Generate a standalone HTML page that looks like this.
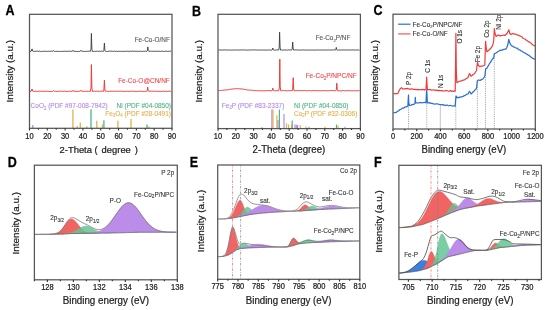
<!DOCTYPE html><html><head><meta charset="utf-8"><style>html,body{margin:0;padding:0;background:#fff;width:550px;height:310px;overflow:hidden}</style></head><body><svg width="550" height="310" viewBox="0 0 550 310" style="display:block;will-change:transform;filter:blur(0.25px)">
<rect width="550" height="310" fill="#fff"/>
<g font-family='"Liberation Sans", sans-serif'>
<text transform="translate(5.40 15.40) scale(1 1.1)" font-size="12.5" fill="#000" text-anchor="start" font-weight="bold" stroke="#000" stroke-width="0.25">A</text>
<text transform="translate(192.00 15.50) scale(1 1.1)" font-size="12.5" fill="#000" text-anchor="start" font-weight="bold" stroke="#000" stroke-width="0.25">B</text>
<text transform="translate(373.40 15.40) scale(1 1.1)" font-size="12.5" fill="#000" text-anchor="start" font-weight="bold" stroke="#000" stroke-width="0.25">C</text>
<text transform="translate(7.80 166.70) scale(1 1.1)" font-size="12.5" fill="#000" text-anchor="start" font-weight="bold" stroke="#000" stroke-width="0.25">D</text>
<text transform="translate(189.80 166.70) scale(1 1.1)" font-size="12.5" fill="#000" text-anchor="start" font-weight="bold" stroke="#000" stroke-width="0.25">E</text>
<text transform="translate(374.00 166.70) scale(1 1.1)" font-size="12.5" fill="#000" text-anchor="start" font-weight="bold" stroke="#000" stroke-width="0.25">F</text>
<path d="M30.0,51.2 31.0,51.4 31.4,51.0 32.0,48.9 32.6,51.0 33.0,51.4 33.8,51.3 34.5,51.3 35.2,51.3 36.0,51.3 36.8,51.1 37.5,51.1 38.2,51.4 39.0,51.2 39.8,51.2 40.5,51.5 41.2,51.3 42.0,51.4 42.8,51.3 43.5,51.4 44.2,51.2 45.0,51.3 45.8,51.4 46.5,51.3 47.2,51.4 48.0,51.4 48.8,51.1 49.5,51.4 50.2,51.3 51.0,51.2 51.8,51.1 52.5,51.4 52.9,51.2 53.5,50.4 54.1,51.2 54.5,51.4 55.5,51.4 56.2,51.3 57.0,51.4 57.8,51.4 58.5,51.4 59.2,51.5 60.0,51.3 60.8,51.4 61.5,51.3 62.2,51.5 63.0,51.4 63.8,51.2 64.5,51.2 65.2,51.2 66.0,51.5 66.8,51.3 67.5,51.3 68.2,51.2 69.0,51.3 69.8,51.3 70.5,51.2 71.2,51.3 72.0,51.4 72.4,51.2 73.0,50.3 73.6,51.2 74.0,51.4 75.0,51.3 75.8,51.4 76.5,51.4 77.2,51.5 78.0,51.4 78.8,51.5 79.5,51.4 80.0,51.4 80.4,51.2 81.0,50.3 81.6,51.2 82.0,51.4 82.5,51.2 83.2,51.4 84.0,51.5 84.8,51.4 85.5,51.3 86.2,51.4 87.0,51.2 87.8,51.4 88.5,51.3 89.2,51.2 90.0,51.1 90.4,51.4 91.0,49.2 91.4,33.4 91.9,49.2 92.4,51.4 93.0,51.4 93.8,51.5 94.5,51.2 95.2,51.4 96.0,51.3 96.8,51.2 97.5,51.2 98.2,51.4 99.0,51.4 99.8,51.1 100.5,51.3 101.2,51.1 102.0,51.4 102.8,51.2 103.4,51.4 103.9,50.3 104.4,43.1 104.9,50.3 105.4,51.4 105.8,51.4 106.5,51.5 107.2,51.3 108.0,51.5 108.8,51.2 109.5,51.1 110.2,51.3 111.0,51.1 111.8,51.2 112.5,51.3 113.2,51.3 114.0,51.2 114.8,51.1 115.5,51.4 116.2,51.2 117.0,51.5 117.8,51.4 118.5,51.3 119.2,51.3 120.0,51.3 120.8,51.4 121.5,51.3 122.2,51.3 123.0,51.3 123.8,51.5 124.5,51.3 125.2,51.3 126.0,51.4 126.8,51.2 127.5,51.2 128.2,51.5 129.0,51.3 129.8,51.3 130.5,51.1 131.2,51.3 132.0,51.3 132.8,51.1 133.5,51.3 134.2,51.3 135.0,51.1 135.8,51.3 136.5,51.3 137.2,51.4 138.0,51.2 138.8,51.4 139.5,51.4 140.2,51.1 141.0,51.1 141.8,51.4 142.5,51.5 143.2,51.2 144.0,51.3 144.8,51.3 145.5,51.2 146.2,51.3 146.8,51.4 147.3,50.8 147.8,46.9 148.3,50.8 148.8,51.4 149.2,51.2 150.0,51.3 150.8,51.3 151.5,51.2 152.2,51.3 153.0,51.4 153.8,51.1 154.5,51.3 155.2,51.4 156.0,51.2 156.8,51.2 157.5,51.4 158.2,51.2 159.0,51.2 159.8,51.3 160.5,51.4 161.2,51.2 162.0,51.2 162.8,51.2 163.5,51.4 164.2,51.3 165.0,51.4 165.8,51.2 166.5,51.2 167.2,51.4 168.0,51.4 168.8,51.3 169.5,51.2 170.2,51.2 171.0,51.3" stroke="#3a3a3a" stroke-width="0.9" fill="none" stroke-linejoin="round"/>
<path d="M30.0,91.2 31.0,91.4 31.4,91.0 32.0,89.0 32.6,91.0 33.0,91.4 33.8,91.4 34.5,91.4 35.2,91.2 36.0,91.2 36.8,91.4 37.5,91.4 38.2,91.4 39.0,91.2 39.8,91.2 40.5,91.2 41.2,91.4 42.0,91.2 42.8,91.2 43.5,91.3 44.2,91.3 45.0,91.3 45.8,91.5 46.5,91.2 47.2,91.1 48.0,91.5 48.8,91.4 49.5,91.5 50.2,91.3 51.0,91.5 51.8,91.5 52.5,91.4 52.9,91.2 53.5,90.5 54.1,91.2 54.5,91.4 55.5,91.2 56.2,91.4 57.0,91.4 57.8,91.4 58.5,91.3 59.2,91.2 60.0,91.2 60.8,91.2 61.5,91.1 62.2,91.3 63.0,91.2 63.8,91.4 64.5,91.1 65.2,91.4 66.0,91.4 66.8,91.5 67.5,91.4 68.2,91.4 69.0,91.3 69.8,91.1 70.5,91.4 71.2,91.2 72.0,91.4 72.4,91.2 73.0,90.3 73.6,91.2 74.0,91.4 75.0,91.2 75.8,91.4 76.5,91.3 77.2,91.3 78.0,91.5 78.8,91.3 79.5,91.2 80.0,91.4 80.4,91.2 81.0,90.3 81.6,91.2 82.0,91.4 82.5,91.2 83.2,91.4 84.0,91.3 84.8,91.4 85.5,91.2 86.2,91.2 87.0,91.3 87.8,91.4 88.5,91.2 89.2,91.4 90.0,91.5 90.4,91.4 91.0,88.1 91.4,64.6 91.9,88.1 92.4,91.4 93.0,91.4 93.8,91.4 94.5,91.1 95.2,91.3 96.0,91.4 96.8,91.1 97.5,91.2 98.2,91.2 99.0,91.3 99.8,91.3 100.5,91.3 101.2,91.4 102.0,91.1 102.8,91.1 103.4,91.4 103.9,90.0 104.4,80.2 104.9,90.0 105.4,91.4 105.8,91.2 106.5,91.2 107.2,91.1 108.0,91.5 108.8,91.4 109.5,91.2 110.2,91.3 111.0,91.2 111.8,91.2 112.5,91.2 113.2,91.4 114.0,91.3 114.8,91.2 115.5,91.2 116.2,91.2 117.0,91.2 117.8,91.3 118.5,91.4 119.2,91.3 120.0,91.1 120.8,91.2 121.5,91.3 122.2,91.3 123.0,91.4 123.8,91.3 124.5,91.4 125.2,91.3 126.0,91.3 126.8,91.3 127.5,91.3 128.2,91.4 129.0,91.3 129.8,91.4 130.5,91.3 131.2,91.2 132.0,91.3 132.8,91.4 133.5,91.1 134.2,91.3 135.0,91.3 135.8,91.4 136.5,91.5 137.2,91.3 138.0,91.4 138.8,91.4 139.5,91.2 140.2,91.3 141.0,91.2 141.8,91.4 142.5,91.4 143.2,91.4 144.0,91.4 144.8,91.4 145.5,91.4 146.2,91.3 146.7,91.4 147.2,90.8 147.7,87.2 148.2,90.8 148.7,91.4 149.2,91.2 150.0,91.3 150.8,91.1 151.5,91.2 152.2,91.4 153.0,91.1 153.8,91.2 154.5,91.2 155.2,91.4 156.0,91.2 156.8,91.1 157.5,91.4 158.2,91.2 159.0,91.4 159.8,91.4 160.5,91.4 161.2,91.5 162.0,91.3 162.8,91.4 163.5,91.1 164.2,91.4 165.0,91.3 165.8,91.4 166.5,91.2 167.2,91.4 168.0,91.5 168.8,91.1 169.5,91.2 170.2,91.3 171.0,91.4" stroke="#ee3b3b" stroke-width="1.0" fill="none" stroke-linejoin="round"/>
<line x1="32.8" y1="128.3" x2="32.8" y2="125" stroke="#b48ae8" stroke-width="1.3"/>
<line x1="72.9" y1="128.3" x2="72.9" y2="109.6" stroke="#e3b04b" stroke-width="1.3"/>
<line x1="77.3" y1="128.3" x2="77.3" y2="126" stroke="#e3b04b" stroke-width="1.3"/>
<line x1="80.3" y1="128.3" x2="80.3" y2="122.4" stroke="#e3b04b" stroke-width="1.3"/>
<line x1="86.8" y1="128.3" x2="86.8" y2="126.2" stroke="#e3b04b" stroke-width="1.3"/>
<line x1="91.0" y1="128.3" x2="91.0" y2="109.3" stroke="#4fb487" stroke-width="1.3"/>
<line x1="96.8" y1="128.3" x2="96.8" y2="120.7" stroke="#e3b04b" stroke-width="1.3"/>
<line x1="102.4" y1="128.3" x2="102.4" y2="124.5" stroke="#e3b04b" stroke-width="1.3"/>
<line x1="103.9" y1="128.3" x2="103.9" y2="120.2" stroke="#4fb487" stroke-width="1.3"/>
<line x1="117.9" y1="128.3" x2="117.9" y2="120.7" stroke="#e3b04b" stroke-width="1.3"/>
<line x1="131" y1="128.3" x2="131" y2="119" stroke="#e3b04b" stroke-width="1.3"/>
<line x1="147" y1="128.3" x2="147" y2="124.4" stroke="#4fb487" stroke-width="1.3"/>
<line x1="148.9" y1="128.3" x2="148.9" y2="126.5" stroke="#e3b04b" stroke-width="1.3"/>
<rect x="29.5" y="14.3" width="142.5" height="114.00000000000001" fill="none" stroke="#555555" stroke-width="1.25"/>
<line x1="29.50" y1="128.3" x2="29.50" y2="130.5" stroke="#333" stroke-width="1.1"/>
<line x1="38.41" y1="128.3" x2="38.41" y2="129.70000000000002" stroke="#333" stroke-width="1.1"/>
<line x1="47.31" y1="128.3" x2="47.31" y2="130.5" stroke="#333" stroke-width="1.1"/>
<line x1="56.22" y1="128.3" x2="56.22" y2="129.70000000000002" stroke="#333" stroke-width="1.1"/>
<line x1="65.12" y1="128.3" x2="65.12" y2="130.5" stroke="#333" stroke-width="1.1"/>
<line x1="74.03" y1="128.3" x2="74.03" y2="129.70000000000002" stroke="#333" stroke-width="1.1"/>
<line x1="82.94" y1="128.3" x2="82.94" y2="130.5" stroke="#333" stroke-width="1.1"/>
<line x1="91.84" y1="128.3" x2="91.84" y2="129.70000000000002" stroke="#333" stroke-width="1.1"/>
<line x1="100.75" y1="128.3" x2="100.75" y2="130.5" stroke="#333" stroke-width="1.1"/>
<line x1="109.66" y1="128.3" x2="109.66" y2="129.70000000000002" stroke="#333" stroke-width="1.1"/>
<line x1="118.56" y1="128.3" x2="118.56" y2="130.5" stroke="#333" stroke-width="1.1"/>
<line x1="127.47" y1="128.3" x2="127.47" y2="129.70000000000002" stroke="#333" stroke-width="1.1"/>
<line x1="136.38" y1="128.3" x2="136.38" y2="130.5" stroke="#333" stroke-width="1.1"/>
<line x1="145.28" y1="128.3" x2="145.28" y2="129.70000000000002" stroke="#333" stroke-width="1.1"/>
<line x1="154.19" y1="128.3" x2="154.19" y2="130.5" stroke="#333" stroke-width="1.1"/>
<line x1="163.09" y1="128.3" x2="163.09" y2="129.70000000000002" stroke="#333" stroke-width="1.1"/>
<line x1="172.00" y1="128.3" x2="172.00" y2="130.5" stroke="#333" stroke-width="1.1"/>
<text transform="translate(29.50 138.90) scale(1 1.1)" font-size="7.5" fill="#222" text-anchor="middle" stroke="#222" stroke-width="0.22">10</text>
<text transform="translate(47.31 138.90) scale(1 1.1)" font-size="7.5" fill="#222" text-anchor="middle" stroke="#222" stroke-width="0.22">20</text>
<text transform="translate(65.12 138.90) scale(1 1.1)" font-size="7.5" fill="#222" text-anchor="middle" stroke="#222" stroke-width="0.22">30</text>
<text transform="translate(82.94 138.90) scale(1 1.1)" font-size="7.5" fill="#222" text-anchor="middle" stroke="#222" stroke-width="0.22">40</text>
<text transform="translate(100.75 138.90) scale(1 1.1)" font-size="7.5" fill="#222" text-anchor="middle" stroke="#222" stroke-width="0.22">50</text>
<text transform="translate(118.56 138.90) scale(1 1.1)" font-size="7.5" fill="#222" text-anchor="middle" stroke="#222" stroke-width="0.22">60</text>
<text transform="translate(136.38 138.90) scale(1 1.1)" font-size="7.5" fill="#222" text-anchor="middle" stroke="#222" stroke-width="0.22">70</text>
<text transform="translate(154.19 138.90) scale(1 1.1)" font-size="7.5" fill="#222" text-anchor="middle" stroke="#222" stroke-width="0.22">80</text>
<text transform="translate(172.00 138.90) scale(1 1.1)" font-size="7.5" fill="#222" text-anchor="middle" stroke="#222" stroke-width="0.22">90</text>
<text x="169.80" y="42.20" font-size="6.4" fill="#555" text-anchor="end" stroke="#555" stroke-width="0.1">Fe-Co-O/NF</text>
<text transform="translate(169.80 83.00) scale(1 1.06)" font-size="6.5" fill="#f04848" text-anchor="end" stroke="#f04848" stroke-width="0.1">Fe-Co-O@CN/NF</text>
<text transform="translate(30.60 107.90) scale(1 1.12)" font-size="6.5" fill="#b48ae8" text-anchor="start" stroke="#b48ae8" stroke-width="0.1">CoO<tspan font-size="4.3" dy="1.5">2</tspan><tspan dy="-1.5"> (PDF #97-008-7942)</tspan></text>
<text transform="translate(171.00 107.90) scale(1 1.12)" font-size="6.5" fill="#4fb487" text-anchor="end" stroke="#4fb487" stroke-width="0.1">Ni (PDF #04-0850)</text>
<text transform="translate(171.00 115.60) scale(1 1.12)" font-size="6.5" fill="#e3b04b" text-anchor="end" stroke="#e3b04b" stroke-width="0.1">Fe<tspan font-size="4.3" dy="1.5">3</tspan><tspan dy="-1.5">O</tspan><tspan font-size="4.3" dy="1.5">4</tspan><tspan dy="-1.5"> (PDF #28-0491)</tspan></text>
<text transform="translate(59.60 152.50) scale(1 1.06)" font-size="9.4" fill="#222" text-anchor="start" stroke="#222" stroke-width="0.22">2-Theta</text>
<text transform="translate(94.60 152.50) scale(1 1.06)" font-size="9.4" fill="#222" text-anchor="start" stroke="#222" stroke-width="0.22">(</text>
<text transform="translate(101.60 152.50) scale(1 1.06)" font-size="9.4" fill="#222" text-anchor="start" stroke="#222" stroke-width="0.22">degree</text>
<text transform="translate(134.80 152.50) scale(1 1.06)" font-size="9.4" fill="#222" text-anchor="start" stroke="#222" stroke-width="0.22">)</text>
<text transform="translate(12.60 71.30) rotate(-90)" font-size="9.9" fill="#222" text-anchor="middle" stroke="#222" stroke-width="0.22">Intensity (a.u.)</text>
<path d="M218.5,49.9 219.2,49.9 220.0,49.9 220.8,50.0 221.5,50.1 222.2,50.0 223.0,50.0 223.8,50.0 224.5,49.9 225.2,50.0 226.0,49.8 226.8,50.0 227.5,50.2 228.2,50.0 229.0,50.1 229.8,49.9 230.5,50.1 231.2,50.1 232.0,50.1 232.8,50.0 233.5,50.0 234.2,50.1 235.0,50.1 235.8,49.9 236.5,49.9 237.2,50.1 238.0,50.1 238.8,50.0 239.5,50.0 240.2,50.1 241.0,49.9 241.8,49.9 242.5,49.9 243.2,50.0 244.0,49.9 244.8,49.9 245.5,50.1 246.2,50.2 247.0,49.9 247.8,50.1 248.5,50.0 249.2,50.1 250.0,50.0 250.8,49.9 251.5,49.9 252.2,49.8 253.0,50.0 253.8,50.0 254.5,49.9 255.2,49.9 256.0,49.9 256.8,50.1 257.5,49.9 258.2,50.2 259.0,50.0 259.8,50.0 260.5,50.0 261.2,50.1 262.0,50.1 262.8,50.0 263.5,50.0 264.2,50.1 265.0,50.1 265.8,50.0 266.5,50.1 267.2,50.2 268.0,50.0 268.8,49.9 269.5,49.9 270.2,50.1 271.0,50.1 271.8,50.1 272.3,49.8 272.8,48.0 273.3,49.8 273.8,50.1 274.8,50.2 275.5,50.1 276.2,49.9 277.0,49.9 277.8,49.9 278.6,50.1 279.2,47.9 279.6,32.2 280.1,47.9 280.6,50.1 281.5,49.9 282.2,50.1 283.0,50.1 283.8,50.1 284.5,49.9 285.2,50.1 286.0,49.9 286.8,50.0 287.5,50.1 288.2,49.9 289.0,49.9 289.8,50.1 290.5,49.9 291.2,49.9 291.7,50.1 292.2,49.0 292.7,42.0 293.2,49.0 293.7,50.1 294.2,50.0 295.0,50.1 295.8,49.8 296.5,49.9 297.2,50.0 298.0,50.0 298.8,49.9 299.5,50.0 300.2,50.2 301.0,50.0 301.8,50.0 302.5,49.9 303.2,49.9 304.0,50.1 304.8,49.9 305.5,50.1 306.2,50.1 307.0,49.9 307.8,50.2 308.5,50.0 309.2,50.1 310.0,50.1 310.8,49.9 311.5,50.1 312.2,50.1 313.0,50.1 313.8,49.9 314.5,50.1 315.2,50.2 316.0,50.1 316.8,50.0 317.5,49.9 318.2,50.0 319.0,49.9 319.8,50.1 320.5,50.1 321.2,50.0 322.0,49.9 322.8,50.1 323.5,50.0 324.2,49.9 325.0,50.1 325.8,50.1 326.5,49.9 327.2,50.2 328.0,49.9 328.8,49.9 329.5,50.1 330.2,50.0 331.0,50.0 331.8,50.1 332.5,50.0 333.2,49.9 334.0,49.9 334.8,49.8 335.3,50.1 335.8,49.7 336.3,47.4 336.8,49.7 337.3,50.1 337.8,50.1 338.5,50.1 339.2,50.0 340.0,50.1 340.8,49.9 341.5,49.9 342.2,50.0 343.0,50.1 343.8,49.8 344.5,50.0 345.2,49.9 346.0,50.1 346.8,49.9 347.5,49.9 348.2,50.0 349.0,50.0 349.8,50.1 350.5,49.9 351.2,50.1 352.0,49.9 352.8,49.9 353.5,49.9 354.2,49.9 355.0,50.1 355.8,50.1 356.5,49.9 357.2,49.9 358.0,50.0 358.8,50.1 359.5,50.1" stroke="#3a3a3a" stroke-width="0.9" fill="none" stroke-linejoin="round"/>
<path d="M218.5,90.7 219.2,90.6 220.0,90.4 220.8,90.4 221.5,90.3 222.2,90.3 223.0,90.3 223.8,90.1 224.5,90.0 225.2,90.1 226.0,89.8 226.8,89.9 227.5,89.9 228.2,89.8 229.0,89.4 229.8,89.4 230.5,89.3 231.2,89.2 232.0,89.2 232.8,89.0 233.5,88.8 234.2,88.9 235.0,88.8 235.8,88.8 236.5,88.8 237.2,88.5 238.0,88.8 238.8,88.8 239.5,88.8 240.2,88.9 241.0,88.9 241.8,88.9 242.5,89.1 243.2,89.1 244.0,89.3 244.8,89.5 245.5,89.5 246.2,89.7 247.0,89.9 247.8,90.0 248.5,89.9 249.2,90.2 250.0,90.2 250.8,90.1 251.5,90.3 252.2,90.3 253.0,90.3 253.8,90.5 254.5,90.7 255.2,90.5 256.0,90.7 256.8,90.7 257.5,90.5 258.2,90.8 259.0,90.7 259.8,90.8 260.5,90.8 261.2,90.8 262.0,90.6 262.8,90.8 263.5,90.8 264.2,90.8 265.0,90.7 265.8,90.8 266.5,90.7 267.2,90.6 268.0,90.5 268.8,90.5 269.5,90.6 270.2,90.6 271.0,90.7 271.8,90.8 272.3,90.4 272.8,88.1 273.3,90.4 273.8,90.8 274.8,90.8 275.5,90.7 276.2,90.7 277.0,90.8 277.8,90.6 278.5,90.7 278.8,90.8 279.4,86.9 279.8,59.2 280.2,86.9 280.8,90.8 281.5,90.8 282.0,90.8 282.4,90.6 283.0,89.9 283.6,90.6 284.0,90.8 284.5,90.7 285.2,90.6 286.0,90.8 286.8,90.8 287.5,90.7 288.2,90.7 289.0,90.7 289.8,90.7 290.5,90.6 291.2,90.5 292.2,90.8 292.7,89.1 293.2,77.7 293.7,89.1 294.2,90.8 295.0,90.6 295.8,90.8 296.5,90.6 297.2,90.7 298.0,90.6 298.8,90.6 299.5,90.6 300.2,90.7 301.0,90.6 301.8,90.5 302.5,90.6 303.2,90.6 304.0,90.7 304.8,90.5 305.5,90.5 306.2,90.7 307.0,90.7 307.8,90.8 308.5,90.5 309.2,90.7 310.0,90.7 310.8,90.5 311.5,90.9 312.2,90.6 313.0,90.6 313.8,90.7 314.5,90.6 315.2,90.7 316.0,90.6 316.8,90.6 317.5,90.5 318.2,90.8 319.0,90.6 319.8,90.8 320.5,90.7 321.2,90.9 322.0,90.6 322.8,90.6 323.5,90.6 324.2,90.8 325.0,90.7 325.8,90.6 326.5,90.6 327.2,90.8 328.0,90.9 328.8,90.7 329.5,90.5 330.2,90.5 331.0,90.6 331.8,90.6 332.5,90.5 333.2,90.5 334.0,90.8 334.8,90.8 335.5,90.6 335.8,90.8 336.3,89.8 336.8,83.2 337.3,89.8 337.8,90.8 338.5,90.9 339.2,90.7 340.0,90.8 340.8,90.9 341.5,90.9 342.2,90.5 343.0,90.6 343.8,90.7 344.5,90.9 345.2,90.6 346.0,90.6 346.8,90.8 347.5,90.6 348.2,90.7 349.0,90.6 349.8,90.8 350.5,90.9 351.2,90.6 352.0,90.8 352.8,90.8 353.5,90.8 354.2,90.7 355.0,90.9 355.8,90.7 356.5,90.7 357.2,90.6 358.0,90.8 358.8,90.7 359.5,90.6" stroke="#ee3b3b" stroke-width="1.0" fill="none" stroke-linejoin="round"/>
<line x1="271.9" y1="128.6" x2="271.9" y2="109.6" stroke="#b48ae8" stroke-width="1.2"/>
<line x1="273.0" y1="128.6" x2="273.0" y2="109.6" stroke="#e3b04b" stroke-width="1.2"/>
<line x1="276.9" y1="128.6" x2="276.9" y2="115.3" stroke="#e3b04b" stroke-width="1.2"/>
<line x1="278.0" y1="128.6" x2="278.0" y2="120" stroke="#b48ae8" stroke-width="1.2"/>
<line x1="279.4" y1="128.6" x2="279.4" y2="109.6" stroke="#4fb487" stroke-width="1.2"/>
<line x1="284.0" y1="128.6" x2="284.0" y2="114" stroke="#b48ae8" stroke-width="1.2"/>
<line x1="286.5" y1="128.6" x2="286.5" y2="123.4" stroke="#e3b04b" stroke-width="1.2"/>
<line x1="288.6" y1="128.6" x2="288.6" y2="124.5" stroke="#e3b04b" stroke-width="1.2"/>
<line x1="291.6" y1="128.6" x2="291.6" y2="124.5" stroke="#e3b04b" stroke-width="1.2"/>
<line x1="292.2" y1="128.6" x2="292.2" y2="120.5" stroke="#4fb487" stroke-width="1.2"/>
<line x1="295" y1="128.6" x2="295" y2="124.5" stroke="#b48ae8" stroke-width="1.2"/>
<line x1="296.3" y1="128.6" x2="296.3" y2="124.8" stroke="#b48ae8" stroke-width="1.2"/>
<line x1="297.6" y1="128.6" x2="297.6" y2="125" stroke="#b48ae8" stroke-width="1.2"/>
<line x1="300.3" y1="128.6" x2="300.3" y2="125.3" stroke="#e3b04b" stroke-width="1.2"/>
<line x1="306" y1="128.6" x2="306" y2="126.5" stroke="#e3b04b" stroke-width="1.2"/>
<line x1="309" y1="128.6" x2="309" y2="126.8" stroke="#b48ae8" stroke-width="1.2"/>
<line x1="336.5" y1="128.6" x2="336.5" y2="124.5" stroke="#4fb487" stroke-width="1.2"/>
<line x1="338" y1="128.6" x2="338" y2="125.5" stroke="#e3b04b" stroke-width="1.2"/>
<line x1="345" y1="128.6" x2="345" y2="126.8" stroke="#b48ae8" stroke-width="1.2"/>
<line x1="325" y1="128.6" x2="325" y2="126.8" stroke="#e3b04b" stroke-width="1.2"/>
<line x1="262" y1="128.6" x2="262" y2="126.9" stroke="#e3b04b" stroke-width="1.2"/>
<rect x="218.0" y="14.3" width="142.39999999999998" height="114.3" fill="none" stroke="#555555" stroke-width="1.25"/>
<line x1="218.00" y1="128.6" x2="218.00" y2="130.79999999999998" stroke="#333" stroke-width="1.1"/>
<line x1="226.90" y1="128.6" x2="226.90" y2="130.0" stroke="#333" stroke-width="1.1"/>
<line x1="235.80" y1="128.6" x2="235.80" y2="130.79999999999998" stroke="#333" stroke-width="1.1"/>
<line x1="244.70" y1="128.6" x2="244.70" y2="130.0" stroke="#333" stroke-width="1.1"/>
<line x1="253.60" y1="128.6" x2="253.60" y2="130.79999999999998" stroke="#333" stroke-width="1.1"/>
<line x1="262.50" y1="128.6" x2="262.50" y2="130.0" stroke="#333" stroke-width="1.1"/>
<line x1="271.40" y1="128.6" x2="271.40" y2="130.79999999999998" stroke="#333" stroke-width="1.1"/>
<line x1="280.30" y1="128.6" x2="280.30" y2="130.0" stroke="#333" stroke-width="1.1"/>
<line x1="289.20" y1="128.6" x2="289.20" y2="130.79999999999998" stroke="#333" stroke-width="1.1"/>
<line x1="298.10" y1="128.6" x2="298.10" y2="130.0" stroke="#333" stroke-width="1.1"/>
<line x1="307.00" y1="128.6" x2="307.00" y2="130.79999999999998" stroke="#333" stroke-width="1.1"/>
<line x1="315.90" y1="128.6" x2="315.90" y2="130.0" stroke="#333" stroke-width="1.1"/>
<line x1="324.80" y1="128.6" x2="324.80" y2="130.79999999999998" stroke="#333" stroke-width="1.1"/>
<line x1="333.70" y1="128.6" x2="333.70" y2="130.0" stroke="#333" stroke-width="1.1"/>
<line x1="342.60" y1="128.6" x2="342.60" y2="130.79999999999998" stroke="#333" stroke-width="1.1"/>
<line x1="351.50" y1="128.6" x2="351.50" y2="130.0" stroke="#333" stroke-width="1.1"/>
<line x1="360.40" y1="128.6" x2="360.40" y2="130.79999999999998" stroke="#333" stroke-width="1.1"/>
<text transform="translate(218.00 139.00) scale(1 1.1)" font-size="7.5" fill="#222" text-anchor="middle" stroke="#222" stroke-width="0.22">10</text>
<text transform="translate(235.80 139.00) scale(1 1.1)" font-size="7.5" fill="#222" text-anchor="middle" stroke="#222" stroke-width="0.22">20</text>
<text transform="translate(253.60 139.00) scale(1 1.1)" font-size="7.5" fill="#222" text-anchor="middle" stroke="#222" stroke-width="0.22">30</text>
<text transform="translate(271.40 139.00) scale(1 1.1)" font-size="7.5" fill="#222" text-anchor="middle" stroke="#222" stroke-width="0.22">40</text>
<text transform="translate(289.20 139.00) scale(1 1.1)" font-size="7.5" fill="#222" text-anchor="middle" stroke="#222" stroke-width="0.22">50</text>
<text transform="translate(307.00 139.00) scale(1 1.1)" font-size="7.5" fill="#222" text-anchor="middle" stroke="#222" stroke-width="0.22">60</text>
<text transform="translate(324.80 139.00) scale(1 1.1)" font-size="7.5" fill="#222" text-anchor="middle" stroke="#222" stroke-width="0.22">70</text>
<text transform="translate(342.60 139.00) scale(1 1.1)" font-size="7.5" fill="#222" text-anchor="middle" stroke="#222" stroke-width="0.22">80</text>
<text transform="translate(360.40 139.00) scale(1 1.1)" font-size="7.5" fill="#222" text-anchor="middle" stroke="#222" stroke-width="0.22">90</text>
<text x="350.40" y="40.40" font-size="6.4" fill="#555" text-anchor="end" stroke="#555" stroke-width="0.1">Fe-Co<tspan font-size="4.3" dy="1.5">2</tspan><tspan dy="-1.5">P/NF</tspan></text>
<text transform="translate(356.70 78.40) scale(1 1.06)" font-size="6.55" fill="#f04848" text-anchor="end" stroke="#f04848" stroke-width="0.1">Fe-Co<tspan font-size="4.3" dy="1.5">2</tspan><tspan dy="-1.5">P/NPC/NF</tspan></text>
<text transform="translate(221.80 107.50) scale(1 1.1)" font-size="6.5" fill="#b48ae8" text-anchor="start" stroke="#b48ae8" stroke-width="0.1">Fe<tspan font-size="4.3" dy="1.5">2</tspan><tspan dy="-1.5">P (PDF #83-2337)</tspan></text>
<text transform="translate(294.00 107.50) scale(1 1.1)" font-size="6.5" fill="#4fb487" text-anchor="start" stroke="#4fb487" stroke-width="0.1">Ni (PDF #04-0850)</text>
<text transform="translate(294.00 115.60) scale(1 1.1)" font-size="6.5" fill="#e3b04b" text-anchor="start" stroke="#e3b04b" stroke-width="0.1">Co<tspan font-size="4.3" dy="1.5">2</tspan><tspan dy="-1.5">P (PDF #32-0306)</tspan></text>
<text transform="translate(288.90 152.50) scale(1 1.06)" font-size="9.7" fill="#222" text-anchor="middle" stroke="#222" stroke-width="0.22">2-Theta (degree)</text>
<text transform="translate(202.10 71.30) rotate(-90)" font-size="9.9" fill="#222" text-anchor="middle" stroke="#222" stroke-width="0.22">Intensity (a.u.)</text>
<line x1="408.5" y1="96" x2="408.5" y2="129.0" stroke="#555" stroke-width="0.6" stroke-dasharray="0.8 1"/>
<line x1="426.8" y1="90" x2="426.8" y2="129.0" stroke="#555" stroke-width="0.6" stroke-dasharray="0.8 1"/>
<line x1="455.8" y1="96" x2="455.8" y2="129.0" stroke="#555" stroke-width="0.6" stroke-dasharray="0.8 1"/>
<line x1="477.4" y1="80" x2="477.4" y2="129.0" stroke="#555" stroke-width="0.6" stroke-dasharray="0.8 1"/>
<line x1="485.5" y1="68" x2="485.5" y2="129.0" stroke="#555" stroke-width="0.6" stroke-dasharray="0.8 1"/>
<line x1="494.3" y1="53" x2="494.3" y2="129.0" stroke="#555" stroke-width="0.6" stroke-dasharray="0.8 1"/>
<line x1="440.3" y1="104" x2="440.3" y2="129.0" stroke="#888" stroke-width="0.5"/>
<path d="M393.5,93.9 394.4,93.5 395.3,93.8 396.2,93.6 397.1,93.6 398.0,93.3 399.0,91.1 400.0,89.0 401.5,87.6 403.0,89.2 404.0,89.0 405.0,88.6 406.0,88.6 406.8,88.8 407.6,88.4 408.4,88.8 409.2,89.1 410.0,89.0 410.8,89.2 411.7,88.8 412.5,89.0 413.3,89.4 414.2,89.3 415.0,89.3 415.8,89.6 416.7,89.7 417.5,89.4 418.3,89.8 419.2,89.7 420.0,89.6 420.9,89.5 421.7,89.6 422.6,89.4 423.4,89.6 424.3,90.1 425.1,89.5 426.0,89.8 426.4,82.0 426.7,77.0 427.0,84.0 427.4,89.6 428.3,89.7 429.2,89.5 430.2,89.6 431.1,90.1 432.0,90.1 432.8,90.0 433.6,89.9 434.4,90.0 435.2,90.4 436.0,90.4 436.8,90.1 437.6,90.3 438.4,90.8 439.2,90.4 440.0,90.6 440.8,90.7 441.6,90.6 442.4,90.9 443.2,90.8 444.0,91.0 444.8,90.9 445.6,90.7 446.4,90.7 447.2,90.7 448.0,91.0 448.9,91.3 449.8,90.8 450.7,90.7 451.6,91.4 452.5,90.9 453.4,91.4 454.3,90.9 455.2,91.2 455.6,60.0 455.9,33.4 456.3,70.0 456.8,82.6 457.9,82.1 458.9,81.5 460.0,81.2 460.8,81.1 461.7,80.7 462.5,80.4 463.3,80.2 464.2,80.0 465.0,79.5 466.0,78.7 467.0,78.2 468.0,77.5 469.5,73.5 471.0,76.3 472.0,75.5 473.0,74.5 474.0,74.0 474.8,73.1 475.7,71.7 476.5,70.5 477.2,64.0 477.6,62.5 478.3,65.5 479.5,66.4 480.3,66.6 481.2,66.1 482.0,66.2 482.9,65.9 483.9,65.5 484.8,65.2 485.3,50.0 485.6,41.3 486.2,48.0 487.0,51.9 488.5,50.5 490.0,49.0 491.5,47.5 493.0,44.5 493.8,40.0 494.3,28.7 494.9,33.0 496.0,36.4 497.0,35.9 498.0,35.0 499.0,35.2 500.0,36.0 501.0,35.6 502.0,35.5 503.0,35.2 504.0,35.1 505.0,35.5 506.0,34.5 507.0,33.5 507.9,31.8 508.8,29.7 509.8,33.5 511.0,34.5 512.0,33.9 513.0,33.5 513.8,33.9 514.7,34.1 515.5,34.0 516.3,34.4 517.2,35.1 518.0,35.0 518.9,35.4 519.8,36.0 520.6,36.2 521.5,36.8 522.4,37.3 523.2,38.3 524.1,38.7 525.0,39.0 525.8,39.8 526.7,40.5 527.5,40.8 528.3,41.6 529.2,41.9 530.0,42.5 531.0,43.1 531.9,44.2 532.9,44.9 533.8,45.6 534.8,46.0" stroke="#ee3b3b" stroke-width="1.2" fill="none" stroke-linejoin="round"/>
<path d="M393.5,112.5 394.3,112.5 395.2,112.7 396.0,112.5 397.0,111.7 398.0,111.0 399.0,110.6 400.0,109.5 401.0,109.3 402.0,108.4 403.0,108.0 403.8,108.0 404.6,107.2 405.4,106.8 406.3,107.0 407.1,106.4 407.9,106.2 408.2,100.0 408.5,95.0 408.8,103.0 409.5,105.5 410.4,105.3 411.2,105.1 412.1,104.5 413.0,104.6 414.0,104.2 415.0,103.5 415.3,97.3 415.6,103.0 416.8,102.8 418.0,103.0 419.0,102.8 420.0,102.6 421.0,102.5 421.8,102.7 422.7,102.8 423.5,102.5 424.3,102.4 425.2,102.6 426.0,102.8 426.4,94.0 426.7,90.5 427.0,96.0 427.4,102.8 428.3,102.8 429.2,102.7 430.2,102.9 431.1,103.4 432.0,103.3 432.8,103.6 433.6,103.9 434.4,104.0 435.2,104.0 436.0,103.8 436.8,103.8 437.6,104.0 438.4,104.2 439.2,104.4 440.0,104.5 440.8,104.6 441.6,104.6 442.4,105.0 443.2,104.7 444.0,105.0 444.8,105.4 445.6,105.4 446.4,105.2 447.2,105.2 448.0,105.5 448.9,105.8 449.8,105.4 450.7,105.5 451.6,105.9 452.5,106.0 453.4,105.9 454.3,105.9 455.2,106.3 455.6,100.0 456.1,96.0 457.0,97.7 458.0,97.3 459.0,97.6 460.0,97.2 460.8,96.9 461.7,97.0 462.5,96.5 463.3,96.4 464.2,95.5 465.0,95.5 466.0,94.8 467.0,94.2 468.0,94.0 469.5,91.3 471.0,94.0 472.0,93.0 473.0,92.0 474.0,91.2 474.8,90.0 475.7,89.4 476.5,88.5 477.3,81.0 478.0,80.0 479.0,80.0 480.0,80.5 481.0,79.9 482.0,79.3 483.0,79.0 484.0,77.5 485.0,75.5 485.6,69.3 487.0,68.0 488.0,66.2 489.0,64.5 490.0,62.8 491.0,61.5 492.0,59.7 493.0,58.5 493.8,57.5 494.3,53.8 495.1,53.4 496.0,53.0 497.0,52.3 498.0,51.5 499.0,51.0 500.0,50.2 501.0,50.3 502.0,50.1 503.0,49.7 504.0,49.3 505.0,49.0 506.0,49.0 506.9,47.2 507.8,45.0 508.8,39.3 509.8,43.0 511.0,45.1 511.8,45.8 512.6,46.1 513.4,46.8 514.2,47.1 515.0,47.5 515.8,47.8 516.7,48.1 517.5,48.4 518.3,49.3 519.2,49.9 520.0,50.0 520.8,50.8 521.7,51.0 522.5,51.6 523.3,52.3 524.2,52.7 525.0,53.0 525.8,53.6 526.7,54.0 527.5,54.7 528.3,55.0 529.2,55.5 530.0,56.3 531.0,57.1 531.9,57.9 532.9,58.3 533.8,58.8 534.8,59.5" stroke="#2a6fd6" stroke-width="1.25" fill="none" stroke-linejoin="round"/>
<rect x="393.0" y="14.2" width="142.29999999999995" height="114.8" fill="none" stroke="#555555" stroke-width="1.25"/>
<line x1="393.00" y1="129.0" x2="393.00" y2="131.2" stroke="#333" stroke-width="1.1"/>
<line x1="404.86" y1="129.0" x2="404.86" y2="130.4" stroke="#333" stroke-width="1.1"/>
<line x1="416.72" y1="129.0" x2="416.72" y2="131.2" stroke="#333" stroke-width="1.1"/>
<line x1="428.57" y1="129.0" x2="428.57" y2="130.4" stroke="#333" stroke-width="1.1"/>
<line x1="440.43" y1="129.0" x2="440.43" y2="131.2" stroke="#333" stroke-width="1.1"/>
<line x1="452.29" y1="129.0" x2="452.29" y2="130.4" stroke="#333" stroke-width="1.1"/>
<line x1="464.15" y1="129.0" x2="464.15" y2="131.2" stroke="#333" stroke-width="1.1"/>
<line x1="476.01" y1="129.0" x2="476.01" y2="130.4" stroke="#333" stroke-width="1.1"/>
<line x1="487.87" y1="129.0" x2="487.87" y2="131.2" stroke="#333" stroke-width="1.1"/>
<line x1="499.72" y1="129.0" x2="499.72" y2="130.4" stroke="#333" stroke-width="1.1"/>
<line x1="511.58" y1="129.0" x2="511.58" y2="131.2" stroke="#333" stroke-width="1.1"/>
<line x1="523.44" y1="129.0" x2="523.44" y2="130.4" stroke="#333" stroke-width="1.1"/>
<line x1="535.30" y1="129.0" x2="535.30" y2="131.2" stroke="#333" stroke-width="1.1"/>
<text transform="translate(393.00 139.00) scale(1 1.1)" font-size="7.5" fill="#222" text-anchor="middle" stroke="#222" stroke-width="0.22">0</text>
<text transform="translate(416.72 139.00) scale(1 1.1)" font-size="7.5" fill="#222" text-anchor="middle" stroke="#222" stroke-width="0.22">200</text>
<text transform="translate(440.43 139.00) scale(1 1.1)" font-size="7.5" fill="#222" text-anchor="middle" stroke="#222" stroke-width="0.22">400</text>
<text transform="translate(464.15 139.00) scale(1 1.1)" font-size="7.5" fill="#222" text-anchor="middle" stroke="#222" stroke-width="0.22">600</text>
<text transform="translate(487.87 139.00) scale(1 1.1)" font-size="7.5" fill="#222" text-anchor="middle" stroke="#222" stroke-width="0.22">800</text>
<text transform="translate(511.58 139.00) scale(1 1.1)" font-size="7.5" fill="#222" text-anchor="middle" stroke="#222" stroke-width="0.22">1000</text>
<text transform="translate(535.30 139.00) scale(1 1.1)" font-size="7.5" fill="#222" text-anchor="middle" stroke="#222" stroke-width="0.22">1200</text>
<line x1="398.1" y1="24.2" x2="410.5" y2="24.2" stroke="#2a6fd6" stroke-width="1.2"/>
<line x1="398.1" y1="33.9" x2="410.5" y2="33.9" stroke="#f07070" stroke-width="1.4"/>
<text x="412.50" y="26.50" font-size="6.4" fill="#333" text-anchor="start" stroke="#333" stroke-width="0.1">Fe-Co<tspan font-size="4.3" dy="1.5">2</tspan><tspan dy="-1.5">P/NPC/NF</tspan></text>
<text x="412.50" y="35.70" font-size="6.4" fill="#333" text-anchor="start" stroke="#333" stroke-width="0.1">Fe-Co-O/NF</text>
<text transform="translate(411.40 78.40) rotate(-90)" font-size="6.4" fill="#333" text-anchor="middle" stroke="#333" stroke-width="0.1">P 2p</text>
<text transform="translate(429.60 66.30) rotate(-90)" font-size="6.4" fill="#333" text-anchor="middle" stroke="#333" stroke-width="0.1">C 1s</text>
<text transform="translate(442.60 81.40) rotate(-90)" font-size="6.4" fill="#333" text-anchor="middle" stroke="#333" stroke-width="0.1">N 1s</text>
<text transform="translate(461.90 36.70) rotate(-90)" font-size="6.4" fill="#333" text-anchor="middle" stroke="#333" stroke-width="0.1">O 1s</text>
<text transform="translate(479.60 54.20) rotate(-90)" font-size="6.4" fill="#333" text-anchor="middle" stroke="#333" stroke-width="0.1">Fe 2p</text>
<text transform="translate(489.40 29.00) rotate(-90)" font-size="6.4" fill="#333" text-anchor="middle" stroke="#333" stroke-width="0.1">Co 2p</text>
<text transform="translate(501.00 22.20) rotate(-90)" font-size="6.4" fill="#333" text-anchor="middle" stroke="#333" stroke-width="0.1">Ni 2p</text>
<text transform="translate(463.90 153.00) scale(1 1.06)" font-size="9.6" fill="#222" text-anchor="middle" stroke="#222" stroke-width="0.22">Binding energy (eV)</text>
<text transform="translate(377.60 71.30) rotate(-90)" font-size="9.9" fill="#222" text-anchor="middle" stroke="#222" stroke-width="0.22">Intensity (a.u.)</text>
<path d="M49.4,234.2 49.9,234.2 50.4,234.2 50.9,234.2 51.4,234.2 51.9,234.1 52.4,234.1 52.9,234.1 53.4,234.0 53.9,233.9 54.4,233.8 54.9,233.7 55.4,233.6 55.9,233.5 56.4,233.3 56.9,233.2 57.4,232.9 57.9,232.7 58.4,232.4 58.9,232.1 59.4,231.8 59.9,231.4 60.4,230.9 60.9,230.4 61.4,229.9 61.9,229.3 62.4,228.7 62.9,228.0 63.4,227.3 63.9,226.6 64.4,225.9 64.9,225.2 65.4,224.5 65.9,223.7 66.4,223.0 66.9,222.3 67.4,221.7 67.9,221.1 68.4,220.6 68.9,220.1 69.4,219.7 69.9,219.4 70.4,219.1 70.9,219.0 71.4,219.0 71.9,219.0 72.4,219.1 72.9,219.3 73.4,219.6 73.9,219.9 74.4,220.3 74.9,220.7 75.4,221.2 75.9,221.7 76.4,222.3 76.9,222.9 77.4,223.5 77.9,224.1 78.4,224.7 78.9,225.4 79.4,226.0 79.9,226.6 80.4,227.2 80.9,227.7 81.4,228.3 81.9,228.8 82.4,229.3 82.9,229.7 83.4,230.1 83.9,230.5 84.4,230.8 84.9,231.2 85.4,231.4 85.9,231.7 86.4,231.9 86.9,232.1 87.4,232.3 87.9,232.5 88.4,232.6 88.9,232.7 89.4,232.8 89.9,232.9 90.4,232.9 90.9,233.0 91.4,233.0 91.9,233.1 92.4,233.1 92.9,233.1 93.4,233.1 93.9,233.2 94.4,233.2 94.9,233.2 95.4,233.2 95.9,233.2 95.9,233.2 95.4,233.2 94.9,233.2 94.4,233.2 93.9,233.2 93.4,233.2 92.9,233.3 92.4,233.3 91.9,233.3 91.4,233.3 90.9,233.3 90.4,233.3 89.9,233.3 89.4,233.3 88.9,233.3 88.4,233.3 87.9,233.3 87.4,233.3 86.9,233.3 86.4,233.4 85.9,233.4 85.4,233.4 84.9,233.4 84.4,233.4 83.9,233.4 83.4,233.4 82.9,233.4 82.4,233.4 81.9,233.4 81.4,233.4 80.9,233.4 80.4,233.4 79.9,233.5 79.4,233.5 78.9,233.5 78.4,233.5 77.9,233.5 77.4,233.5 76.9,233.5 76.4,233.5 75.9,233.5 75.4,233.5 74.9,233.5 74.4,233.5 73.9,233.5 73.4,233.5 72.9,233.6 72.4,233.6 71.9,233.6 71.4,233.6 70.9,233.6 70.4,233.6 69.9,233.6 69.4,233.6 68.9,233.7 68.4,233.7 67.9,233.7 67.4,233.8 66.9,233.8 66.4,233.8 65.9,233.8 65.4,233.9 64.9,233.9 64.4,233.9 63.9,234.0 63.4,234.0 62.9,234.0 62.4,234.1 61.9,234.1 61.4,234.1 60.9,234.1 60.4,234.2 59.9,234.2 59.4,234.2 58.9,234.2 58.4,234.2 57.9,234.2 57.4,234.2 56.9,234.2 56.4,234.2 55.9,234.2 55.4,234.2 54.9,234.2 54.4,234.2 53.9,234.2 53.4,234.3 52.9,234.3 52.4,234.3 51.9,234.3 51.4,234.3 50.9,234.3 50.4,234.3 49.9,234.3 49.4,234.3 Z" fill="#f06464" fill-opacity="1" stroke="#f06464" stroke-width="0.3"/>
<path d="M61.4,234.1 61.9,234.0 62.4,234.0 62.9,234.0 63.4,233.9 63.9,233.9 64.4,233.8 64.9,233.8 65.4,233.7 65.9,233.6 66.4,233.6 66.9,233.5 67.4,233.4 67.9,233.3 68.4,233.2 68.9,233.1 69.4,233.0 69.9,232.8 70.4,232.7 70.9,232.6 71.4,232.4 71.9,232.3 72.4,232.1 72.9,231.9 73.4,231.7 73.9,231.5 74.4,231.2 74.9,231.0 75.4,230.7 75.9,230.5 76.4,230.2 76.9,229.9 77.4,229.6 77.9,229.3 78.4,229.0 78.9,228.7 79.4,228.4 79.9,228.1 80.4,227.8 80.9,227.5 81.4,227.3 81.9,227.0 82.4,226.8 82.9,226.6 83.4,226.5 83.9,226.3 84.4,226.2 84.9,226.1 85.4,226.1 85.9,226.1 86.4,226.1 86.9,226.1 87.4,226.2 87.9,226.3 88.4,226.4 88.9,226.6 89.4,226.8 89.9,227.0 90.4,227.2 90.9,227.5 91.4,227.8 91.9,228.0 92.4,228.3 92.9,228.6 93.4,228.9 93.9,229.2 94.4,229.5 94.9,229.7 95.4,230.0 95.9,230.3 96.4,230.5 96.9,230.8 97.4,231.0 97.9,231.2 98.4,231.4 98.9,231.6 99.4,231.7 99.9,231.9 100.4,232.0 100.9,232.2 101.4,232.3 101.9,232.4 102.4,232.5 102.9,232.6 103.4,232.6 103.9,232.7 104.4,232.7 104.9,232.8 105.4,232.8 105.9,232.9 106.4,232.9 106.9,232.9 107.4,232.9 107.9,232.9 108.4,232.9 108.9,233.0 109.4,233.0 109.9,233.0 110.4,233.0 110.4,233.0 109.9,233.0 109.4,233.0 108.9,233.0 108.4,233.0 107.9,233.0 107.4,233.0 106.9,233.0 106.4,233.1 105.9,233.1 105.4,233.1 104.9,233.1 104.4,233.1 103.9,233.1 103.4,233.1 102.9,233.1 102.4,233.1 101.9,233.1 101.4,233.1 100.9,233.1 100.4,233.1 99.9,233.2 99.4,233.2 98.9,233.2 98.4,233.2 97.9,233.2 97.4,233.2 96.9,233.2 96.4,233.2 95.9,233.2 95.4,233.2 94.9,233.2 94.4,233.2 93.9,233.2 93.4,233.2 92.9,233.3 92.4,233.3 91.9,233.3 91.4,233.3 90.9,233.3 90.4,233.3 89.9,233.3 89.4,233.3 88.9,233.3 88.4,233.3 87.9,233.3 87.4,233.3 86.9,233.3 86.4,233.4 85.9,233.4 85.4,233.4 84.9,233.4 84.4,233.4 83.9,233.4 83.4,233.4 82.9,233.4 82.4,233.4 81.9,233.4 81.4,233.4 80.9,233.4 80.4,233.4 79.9,233.5 79.4,233.5 78.9,233.5 78.4,233.5 77.9,233.5 77.4,233.5 76.9,233.5 76.4,233.5 75.9,233.5 75.4,233.5 74.9,233.5 74.4,233.5 73.9,233.5 73.4,233.5 72.9,233.6 72.4,233.6 71.9,233.6 71.4,233.6 70.9,233.6 70.4,233.6 69.9,233.6 69.4,233.6 68.9,233.7 68.4,233.7 67.9,233.7 67.4,233.8 66.9,233.8 66.4,233.8 65.9,233.8 65.4,233.9 64.9,233.9 64.4,233.9 63.9,234.0 63.4,234.0 62.9,234.0 62.4,234.1 61.9,234.1 61.4,234.1 Z" fill="#63c593" fill-opacity="0.85" stroke="#63c593" stroke-width="0.3"/>
<path d="M81.9,233.4 82.4,233.4 82.9,233.4 83.4,233.3 83.9,233.3 84.4,233.3 84.9,233.3 85.4,233.3 85.9,233.3 86.4,233.2 86.9,233.2 87.4,233.2 87.9,233.2 88.4,233.1 88.9,233.1 89.4,233.1 89.9,233.0 90.4,233.0 90.9,232.9 91.4,232.9 91.9,232.8 92.4,232.8 92.9,232.7 93.4,232.6 93.9,232.5 94.4,232.5 94.9,232.4 95.4,232.3 95.9,232.1 96.4,232.0 96.9,231.9 97.4,231.7 97.9,231.6 98.4,231.4 98.9,231.2 99.4,231.1 99.9,230.8 100.4,230.6 100.9,230.4 101.4,230.1 101.9,229.9 102.4,229.6 102.9,229.3 103.4,228.9 103.9,228.6 104.4,228.2 104.9,227.8 105.4,227.4 105.9,227.0 106.4,226.6 106.9,226.1 107.4,225.6 107.9,225.1 108.4,224.6 108.9,224.0 109.4,223.4 109.9,222.9 110.4,222.2 110.9,221.6 111.4,221.0 111.9,220.3 112.4,219.6 112.9,218.9 113.4,218.2 113.9,217.5 114.4,216.8 114.9,216.1 115.4,215.4 115.9,214.6 116.4,213.9 116.9,213.2 117.4,212.5 117.9,211.8 118.4,211.1 118.9,210.4 119.4,209.7 119.9,209.0 120.4,208.4 120.9,207.8 121.4,207.2 121.9,206.6 122.4,206.1 122.9,205.6 123.4,205.1 123.9,204.7 124.4,204.3 124.9,204.0 125.4,203.7 125.9,203.4 126.4,203.2 126.9,203.0 127.4,202.9 127.9,202.8 128.4,202.8 128.9,202.8 129.4,202.8 129.9,202.9 130.4,203.1 130.9,203.3 131.4,203.5 131.9,203.8 132.4,204.1 132.9,204.5 133.4,204.9 133.9,205.4 134.4,205.8 134.9,206.3 135.4,206.9 135.9,207.4 136.4,208.0 136.9,208.6 137.4,209.3 137.9,209.9 138.4,210.6 138.9,211.3 139.4,212.0 139.9,212.7 140.4,213.4 140.9,214.1 141.4,214.8 141.9,215.5 142.4,216.2 142.9,216.9 143.4,217.6 143.9,218.3 144.4,219.0 144.9,219.6 145.4,220.3 145.9,220.9 146.4,221.5 146.9,222.1 147.4,222.7 147.9,223.3 148.4,223.8 148.9,224.3 149.4,224.8 149.9,225.3 150.4,225.8 150.9,226.2 151.4,226.6 151.9,227.0 152.4,227.4 152.9,227.8 153.4,228.1 153.9,228.4 154.4,228.7 154.9,229.0 155.4,229.3 155.9,229.5 156.4,229.7 156.9,229.9 157.4,230.1 157.9,230.3 158.4,230.5 158.9,230.7 159.4,230.8 159.9,230.9 160.4,231.1 160.9,231.2 161.4,231.3 161.9,231.4 162.4,231.5 162.9,231.5 163.4,231.6 163.9,231.7 164.4,231.7 164.9,231.8 165.4,231.8 165.9,231.9 166.4,231.9 166.9,231.9 167.4,232.0 167.9,232.0 168.4,232.0 168.9,232.1 169.4,232.1 169.9,232.1 170.4,232.1 170.9,232.1 171.4,232.1 171.9,232.1 172.4,232.1 172.9,232.2 173.4,232.2 173.9,232.2 174.4,232.2 174.9,232.2 174.9,232.2 174.4,232.2 173.9,232.2 173.4,232.2 172.9,232.2 172.4,232.2 171.9,232.2 171.4,232.2 170.9,232.2 170.4,232.2 169.9,232.2 169.4,232.2 168.9,232.2 168.4,232.2 167.9,232.2 167.4,232.2 166.9,232.2 166.4,232.2 165.9,232.2 165.4,232.2 164.9,232.2 164.4,232.2 163.9,232.2 163.4,232.2 162.9,232.2 162.4,232.2 161.9,232.2 161.4,232.2 160.9,232.2 160.4,232.2 159.9,232.2 159.4,232.2 158.9,232.2 158.4,232.3 157.9,232.3 157.4,232.3 156.9,232.3 156.4,232.3 155.9,232.3 155.4,232.3 154.9,232.3 154.4,232.3 153.9,232.3 153.4,232.3 152.9,232.3 152.4,232.3 151.9,232.3 151.4,232.3 150.9,232.3 150.4,232.3 149.9,232.3 149.4,232.3 148.9,232.3 148.4,232.3 147.9,232.3 147.4,232.3 146.9,232.3 146.4,232.3 145.9,232.3 145.4,232.3 144.9,232.3 144.4,232.3 143.9,232.3 143.4,232.3 142.9,232.3 142.4,232.3 141.9,232.3 141.4,232.3 140.9,232.3 140.4,232.3 139.9,232.3 139.4,232.3 138.9,232.3 138.4,232.3 137.9,232.3 137.4,232.4 136.9,232.4 136.4,232.4 135.9,232.4 135.4,232.4 134.9,232.4 134.4,232.4 133.9,232.4 133.4,232.5 132.9,232.5 132.4,232.5 131.9,232.5 131.4,232.5 130.9,232.5 130.4,232.5 129.9,232.5 129.4,232.5 128.9,232.6 128.4,232.6 127.9,232.6 127.4,232.6 126.9,232.6 126.4,232.6 125.9,232.6 125.4,232.6 124.9,232.7 124.4,232.7 123.9,232.7 123.4,232.7 122.9,232.7 122.4,232.7 121.9,232.7 121.4,232.7 120.9,232.7 120.4,232.8 119.9,232.8 119.4,232.8 118.9,232.8 118.4,232.8 117.9,232.8 117.4,232.8 116.9,232.8 116.4,232.9 115.9,232.9 115.4,232.9 114.9,232.9 114.4,232.9 113.9,232.9 113.4,232.9 112.9,232.9 112.4,232.9 111.9,233.0 111.4,233.0 110.9,233.0 110.4,233.0 109.9,233.0 109.4,233.0 108.9,233.0 108.4,233.0 107.9,233.0 107.4,233.0 106.9,233.0 106.4,233.1 105.9,233.1 105.4,233.1 104.9,233.1 104.4,233.1 103.9,233.1 103.4,233.1 102.9,233.1 102.4,233.1 101.9,233.1 101.4,233.1 100.9,233.1 100.4,233.1 99.9,233.2 99.4,233.2 98.9,233.2 98.4,233.2 97.9,233.2 97.4,233.2 96.9,233.2 96.4,233.2 95.9,233.2 95.4,233.2 94.9,233.2 94.4,233.2 93.9,233.2 93.4,233.2 92.9,233.3 92.4,233.3 91.9,233.3 91.4,233.3 90.9,233.3 90.4,233.3 89.9,233.3 89.4,233.3 88.9,233.3 88.4,233.3 87.9,233.3 87.4,233.3 86.9,233.3 86.4,233.4 85.9,233.4 85.4,233.4 84.9,233.4 84.4,233.4 83.9,233.4 83.4,233.4 82.9,233.4 82.4,233.4 81.9,233.4 Z" fill="#bb8ce8" fill-opacity="1" stroke="#bb8ce8" stroke-width="0.3"/>
<path d="M34.9,234.4 35.4,234.4 35.9,234.4 36.4,234.4 36.9,234.4 37.4,234.4 37.9,234.4 38.4,234.4 38.9,234.4 39.4,234.4 39.9,234.4 40.4,234.4 40.9,234.3 41.4,234.3 41.9,234.3 42.4,234.3 42.9,234.3 43.4,234.3 43.9,234.3 44.4,234.3 44.9,234.3 45.4,234.3 45.9,234.3 46.4,234.3 46.9,234.3 47.4,234.3 47.9,234.3 48.4,234.3 48.9,234.3 49.4,234.3 49.9,234.3 50.4,234.3 50.9,234.3 51.4,234.3 51.9,234.3 52.4,234.3 52.9,234.3 53.4,234.3 53.9,234.2 54.4,234.2 54.9,234.2 55.4,234.2 55.9,234.2 56.4,234.2 56.9,234.2 57.4,234.2 57.9,234.2 58.4,234.2 58.9,234.2 59.4,234.2 59.9,234.2 60.4,234.2 60.9,234.1 61.4,234.1 61.9,234.1 62.4,234.1 62.9,234.0 63.4,234.0 63.9,234.0 64.4,233.9 64.9,233.9 65.4,233.9 65.9,233.8 66.4,233.8 66.9,233.8 67.4,233.8 67.9,233.7 68.4,233.7 68.9,233.7 69.4,233.6 69.9,233.6 70.4,233.6 70.9,233.6 71.4,233.6 71.9,233.6 72.4,233.6 72.9,233.6 73.4,233.5 73.9,233.5 74.4,233.5 74.9,233.5 75.4,233.5 75.9,233.5 76.4,233.5 76.9,233.5 77.4,233.5 77.9,233.5 78.4,233.5 78.9,233.5 79.4,233.5 79.9,233.5 80.4,233.4 80.9,233.4 81.4,233.4 81.9,233.4 82.4,233.4 82.9,233.4 83.4,233.4 83.9,233.4 84.4,233.4 84.9,233.4 85.4,233.4 85.9,233.4 86.4,233.4 86.9,233.3 87.4,233.3 87.9,233.3 88.4,233.3 88.9,233.3 89.4,233.3 89.9,233.3 90.4,233.3 90.9,233.3 91.4,233.3 91.9,233.3 92.4,233.3 92.9,233.3 93.4,233.2 93.9,233.2 94.4,233.2 94.9,233.2 95.4,233.2 95.9,233.2 96.4,233.2 96.9,233.2 97.4,233.2 97.9,233.2 98.4,233.2 98.9,233.2 99.4,233.2 99.9,233.2 100.4,233.1 100.9,233.1 101.4,233.1 101.9,233.1 102.4,233.1 102.9,233.1 103.4,233.1 103.9,233.1 104.4,233.1 104.9,233.1 105.4,233.1 105.9,233.1 106.4,233.1 106.9,233.0 107.4,233.0 107.9,233.0 108.4,233.0 108.9,233.0 109.4,233.0 109.9,233.0 110.4,233.0 110.9,233.0 111.4,233.0 111.9,233.0 112.4,232.9 112.9,232.9 113.4,232.9 113.9,232.9 114.4,232.9 114.9,232.9 115.4,232.9 115.9,232.9 116.4,232.9 116.9,232.8 117.4,232.8 117.9,232.8 118.4,232.8 118.9,232.8 119.4,232.8 119.9,232.8 120.4,232.8 120.9,232.7 121.4,232.7 121.9,232.7 122.4,232.7 122.9,232.7 123.4,232.7 123.9,232.7 124.4,232.7 124.9,232.7 125.4,232.6 125.9,232.6 126.4,232.6 126.9,232.6 127.4,232.6 127.9,232.6 128.4,232.6 128.9,232.6 129.4,232.5 129.9,232.5 130.4,232.5 130.9,232.5 131.4,232.5 131.9,232.5 132.4,232.5 132.9,232.5 133.4,232.5 133.9,232.4 134.4,232.4 134.9,232.4 135.4,232.4 135.9,232.4 136.4,232.4 136.9,232.4 137.4,232.4 137.9,232.3 138.4,232.3 138.9,232.3 139.4,232.3 139.9,232.3 140.4,232.3 140.9,232.3 141.4,232.3 141.9,232.3 142.4,232.3 142.9,232.3 143.4,232.3 143.9,232.3 144.4,232.3 144.9,232.3 145.4,232.3 145.9,232.3 146.4,232.3 146.9,232.3 147.4,232.3 147.9,232.3 148.4,232.3 148.9,232.3 149.4,232.3 149.9,232.3 150.4,232.3 150.9,232.3 151.4,232.3 151.9,232.3 152.4,232.3 152.9,232.3 153.4,232.3 153.9,232.3 154.4,232.3 154.9,232.3 155.4,232.3 155.9,232.3 156.4,232.3 156.9,232.3 157.4,232.3 157.9,232.3 158.4,232.3 158.9,232.2 159.4,232.2 159.9,232.2 160.4,232.2 160.9,232.2 161.4,232.2 161.9,232.2 162.4,232.2 162.9,232.2 163.4,232.2 163.9,232.2 164.4,232.2 164.9,232.2 165.4,232.2 165.9,232.2 166.4,232.2 166.9,232.2 167.4,232.2 167.9,232.2 168.4,232.2 168.9,232.2 169.4,232.2 169.9,232.2 170.4,232.2 170.9,232.2 171.4,232.2 171.9,232.2 172.4,232.2 172.9,232.2 173.4,232.2 173.9,232.2 174.4,232.2 174.9,232.2 175.4,232.2 175.9,232.2 176.4,232.2" stroke="#5a5a5a" stroke-width="0.7" fill="none" stroke-linejoin="round"/>
<path d="M34.9,234.4 35.4,234.4 35.9,234.4 36.4,234.4 36.9,234.4 37.4,234.4 37.9,234.4 38.4,234.4 38.9,234.4 39.4,234.4 39.9,234.4 40.4,234.4 40.9,234.3 41.4,234.3 41.9,234.3 42.4,234.3 42.9,234.3 43.4,234.3 43.9,234.3 44.4,234.3 44.9,234.3 45.4,234.3 45.9,234.3 46.4,234.3 46.9,234.3 47.4,234.3 47.9,234.3 48.4,234.3 48.9,234.3 49.4,234.2 49.9,234.2 50.4,234.2 50.9,234.2 51.4,234.2 51.9,234.1 52.4,234.1 52.9,234.0 53.4,234.0 53.9,233.9 54.4,233.8 54.9,233.7 55.4,233.6 55.9,233.5 56.4,233.3 56.9,233.1 57.4,232.9 57.9,232.7 58.4,232.4 58.9,232.1 59.4,231.7 59.9,231.3 60.4,230.9 60.9,230.4 61.4,229.8 61.9,229.2 62.4,228.6 62.9,228.0 63.4,227.3 63.9,226.5 64.4,225.8 64.9,225.0 65.4,224.3 65.9,223.5 66.4,222.8 66.9,222.0 67.4,221.3 67.9,220.7 68.4,220.1 68.9,219.5 69.4,219.0 69.9,218.6 70.4,218.3 70.9,218.0 71.4,217.8 71.9,217.7 72.4,217.7 72.9,217.7 73.4,217.7 73.9,217.8 74.4,218.0 74.9,218.2 75.4,218.4 75.9,218.7 76.4,219.0 76.9,219.3 77.4,219.6 77.9,219.9 78.4,220.2 78.9,220.6 79.4,220.9 79.9,221.2 80.4,221.5 80.9,221.8 81.4,222.1 81.9,222.4 82.4,222.6 82.9,222.9 83.4,223.1 83.9,223.4 84.4,223.6 84.9,223.8 85.4,224.1 85.9,224.3 86.4,224.5 86.9,224.8 87.4,225.0 87.9,225.3 88.4,225.5 88.9,225.8 89.4,226.0 89.9,226.3 90.4,226.6 90.9,226.8 91.4,227.1 91.9,227.4 92.4,227.6 92.9,227.9 93.4,228.2 93.9,228.4 94.4,228.6 94.9,228.8 95.4,229.0 95.9,229.2 96.4,229.3 96.9,229.4 97.4,229.5 97.9,229.6 98.4,229.6 98.9,229.6 99.4,229.6 99.9,229.6 100.4,229.5 100.9,229.4 101.4,229.3 101.9,229.1 102.4,228.9 102.9,228.7 103.4,228.5 103.9,228.2 104.4,227.9 104.9,227.6 105.4,227.2 105.9,226.8 106.4,226.4 106.9,226.0 107.4,225.5 107.9,225.0 108.4,224.5 108.9,224.0 109.4,223.4 109.9,222.8 110.4,222.2 110.9,221.6 111.4,221.0 111.9,220.3 112.4,219.6 112.9,218.9 113.4,218.2 113.9,217.5 114.4,216.8 114.9,216.1 115.4,215.4 115.9,214.6 116.4,213.9 116.9,213.2 117.4,212.5 117.9,211.8 118.4,211.1 118.9,210.4 119.4,209.7 119.9,209.0 120.4,208.4 120.9,207.8 121.4,207.2 121.9,206.6 122.4,206.1 122.9,205.6 123.4,205.1 123.9,204.7 124.4,204.3 124.9,204.0 125.4,203.7 125.9,203.4 126.4,203.2 126.9,203.0 127.4,202.9 127.9,202.8 128.4,202.8 128.9,202.8 129.4,202.8 129.9,202.9 130.4,203.1 130.9,203.3 131.4,203.5 131.9,203.8 132.4,204.1 132.9,204.5 133.4,204.9 133.9,205.4 134.4,205.8 134.9,206.3 135.4,206.9 135.9,207.4 136.4,208.0 136.9,208.6 137.4,209.3 137.9,209.9 138.4,210.6 138.9,211.3 139.4,212.0 139.9,212.7 140.4,213.4 140.9,214.1 141.4,214.8 141.9,215.5 142.4,216.2 142.9,216.9 143.4,217.6 143.9,218.3 144.4,219.0 144.9,219.6 145.4,220.3 145.9,220.9 146.4,221.5 146.9,222.1 147.4,222.7 147.9,223.3 148.4,223.8 148.9,224.3 149.4,224.8 149.9,225.3 150.4,225.8 150.9,226.2 151.4,226.6 151.9,227.0 152.4,227.4 152.9,227.8 153.4,228.1 153.9,228.4 154.4,228.7 154.9,229.0 155.4,229.3 155.9,229.5 156.4,229.7 156.9,229.9 157.4,230.1 157.9,230.3 158.4,230.5 158.9,230.7 159.4,230.8 159.9,230.9 160.4,231.1 160.9,231.2 161.4,231.3 161.9,231.4 162.4,231.5 162.9,231.5 163.4,231.6 163.9,231.7 164.4,231.7 164.9,231.8 165.4,231.8 165.9,231.9 166.4,231.9 166.9,231.9 167.4,232.0 167.9,232.0 168.4,232.0 168.9,232.1 169.4,232.1 169.9,232.1 170.4,232.1 170.9,232.1 171.4,232.1 171.9,232.1 172.4,232.1 172.9,232.2 173.4,232.2 173.9,232.2 174.4,232.2 174.9,232.2 175.4,232.2 175.9,232.2 176.4,232.2" stroke="#6a6a6a" stroke-width="0.8" fill="none" stroke-linejoin="round"/>
<rect x="34.4" y="165.2" width="142.9" height="114.60000000000002" fill="none" stroke="#555555" stroke-width="1.25"/>
<line x1="34.40" y1="279.8" x2="34.40" y2="281.2" stroke="#333" stroke-width="1.1"/>
<line x1="47.39" y1="279.8" x2="47.39" y2="282.0" stroke="#333" stroke-width="1.1"/>
<line x1="60.38" y1="279.8" x2="60.38" y2="281.2" stroke="#333" stroke-width="1.1"/>
<line x1="73.37" y1="279.8" x2="73.37" y2="282.0" stroke="#333" stroke-width="1.1"/>
<line x1="86.36" y1="279.8" x2="86.36" y2="281.2" stroke="#333" stroke-width="1.1"/>
<line x1="99.35" y1="279.8" x2="99.35" y2="282.0" stroke="#333" stroke-width="1.1"/>
<line x1="112.35" y1="279.8" x2="112.35" y2="281.2" stroke="#333" stroke-width="1.1"/>
<line x1="125.34" y1="279.8" x2="125.34" y2="282.0" stroke="#333" stroke-width="1.1"/>
<line x1="138.33" y1="279.8" x2="138.33" y2="281.2" stroke="#333" stroke-width="1.1"/>
<line x1="151.32" y1="279.8" x2="151.32" y2="282.0" stroke="#333" stroke-width="1.1"/>
<line x1="164.31" y1="279.8" x2="164.31" y2="281.2" stroke="#333" stroke-width="1.1"/>
<line x1="177.30" y1="279.8" x2="177.30" y2="282.0" stroke="#333" stroke-width="1.1"/>
<text transform="translate(47.39 289.90) scale(1 1.1)" font-size="7.5" fill="#222" text-anchor="middle" stroke="#222" stroke-width="0.22">128</text>
<text transform="translate(73.37 289.90) scale(1 1.1)" font-size="7.5" fill="#222" text-anchor="middle" stroke="#222" stroke-width="0.22">130</text>
<text transform="translate(99.35 289.90) scale(1 1.1)" font-size="7.5" fill="#222" text-anchor="middle" stroke="#222" stroke-width="0.22">132</text>
<text transform="translate(125.34 289.90) scale(1 1.1)" font-size="7.5" fill="#222" text-anchor="middle" stroke="#222" stroke-width="0.22">134</text>
<text transform="translate(151.32 289.90) scale(1 1.1)" font-size="7.5" fill="#222" text-anchor="middle" stroke="#222" stroke-width="0.22">136</text>
<text transform="translate(177.30 289.90) scale(1 1.1)" font-size="7.5" fill="#222" text-anchor="middle" stroke="#222" stroke-width="0.22">138</text>
<text x="174.20" y="175.40" font-size="6.4" fill="#333" text-anchor="end" stroke="#333" stroke-width="0.1">P 2p</text>
<text x="174.00" y="196.60" font-size="6.4" fill="#333" text-anchor="end" stroke="#333" stroke-width="0.1">Fe-Co<tspan font-size="4.7" dy="1.4">2</tspan><tspan dy="-1.4">P/NPC</tspan></text>
<text x="109.60" y="202.90" font-size="6.4" fill="#333" text-anchor="start" stroke="#333" stroke-width="0.1">P-O</text>
<text x="50.30" y="220.20" font-size="6.4" fill="#333" text-anchor="start" stroke="#333" stroke-width="0.1">2p<tspan font-size="4.7" dy="1.4">3/2</tspan><tspan dy="-1.4"></tspan></text>
<text x="85.80" y="221.40" font-size="6.4" fill="#333" text-anchor="start" stroke="#333" stroke-width="0.1">2p<tspan font-size="4.7" dy="1.4">1/2</tspan><tspan dy="-1.4"></tspan></text>
<text transform="translate(105.90 304.20) scale(1 1.06)" font-size="9.8" fill="#222" text-anchor="middle" stroke="#222" stroke-width="0.22">Binding energy (eV)</text>
<text transform="translate(18.60 223.20) rotate(-90)" font-size="9.9" fill="#222" text-anchor="middle" stroke="#222" stroke-width="0.22">Intensity (a.u.)</text>
<path d="M224.7,218.8 225.2,218.7 225.7,218.7 226.2,218.7 226.7,218.5 227.2,218.4 227.7,218.3 228.2,218.1 228.7,217.9 229.2,217.6 229.7,217.3 230.2,216.9 230.7,216.5 231.2,216.0 231.7,215.3 232.2,214.6 232.7,213.8 233.2,212.8 233.7,211.8 234.2,210.6 234.7,209.5 235.2,208.3 235.7,207.0 236.2,205.8 236.7,204.6 237.2,203.5 237.7,202.5 238.2,201.7 238.7,201.0 239.2,200.5 239.7,200.2 240.2,200.1 240.7,200.4 241.2,200.9 241.7,201.7 242.2,202.7 242.7,203.8 243.2,205.1 243.7,206.4 244.2,207.6 244.7,208.8 245.2,209.9 245.7,210.9 246.2,211.7 246.7,212.4 247.2,213.0 247.7,213.4 248.2,213.7 248.7,213.9 249.2,214.1 249.7,214.2 250.2,214.2 250.7,214.2 251.2,214.2 251.7,214.2 252.2,214.2 252.2,214.2 251.7,214.3 251.2,214.4 250.7,214.4 250.2,214.5 249.7,214.6 249.2,214.7 248.7,214.8 248.2,214.9 247.7,215.0 247.2,215.1 246.7,215.2 246.2,215.3 245.7,215.4 245.2,215.5 244.7,215.6 244.2,215.7 243.7,215.8 243.2,215.9 242.7,216.0 242.2,216.1 241.7,216.2 241.2,216.3 240.7,216.4 240.2,216.5 239.7,216.6 239.2,216.7 238.7,216.8 238.2,216.9 237.7,217.0 237.2,217.1 236.7,217.2 236.2,217.3 235.7,217.4 235.2,217.5 234.7,217.6 234.2,217.7 233.7,217.8 233.2,217.9 232.7,218.1 232.2,218.2 231.7,218.2 231.2,218.3 230.7,218.3 230.2,218.4 229.7,218.4 229.2,218.5 228.7,218.5 228.2,218.6 227.7,218.6 227.2,218.7 226.7,218.7 226.2,218.8 225.7,218.8 225.2,218.8 224.7,218.8 Z" fill="#f06464" fill-opacity="1" stroke="#f06464" stroke-width="0.3"/>
<path d="M234.2,217.7 234.7,217.6 235.2,217.4 235.7,217.3 236.2,217.1 236.7,216.9 237.2,216.7 237.7,216.5 238.2,216.2 238.7,215.9 239.2,215.5 239.7,215.1 240.2,214.7 240.7,214.1 241.2,213.6 241.7,212.9 242.2,212.3 242.7,211.6 243.2,210.9 243.7,210.2 244.2,209.5 244.7,208.9 245.2,208.3 245.7,207.8 246.2,207.5 246.7,207.2 247.2,207.1 247.7,207.0 248.2,207.2 248.7,207.4 249.2,207.7 249.7,208.1 250.2,208.6 250.7,209.1 251.2,209.6 251.7,210.2 252.2,210.7 252.7,211.2 253.2,211.6 253.7,212.0 254.2,212.3 254.7,212.6 255.2,212.8 255.7,213.0 256.2,213.2 256.7,213.2 257.2,213.3 257.7,213.3 258.2,213.3 258.7,213.3 259.2,213.3 259.7,213.3 260.2,213.2 260.2,213.3 259.7,213.3 259.2,213.4 258.7,213.5 258.2,213.5 257.7,213.6 257.2,213.6 256.7,213.7 256.2,213.8 255.7,213.8 255.2,213.9 254.7,213.9 254.2,214.0 253.7,214.1 253.2,214.1 252.7,214.2 252.2,214.2 251.7,214.3 251.2,214.4 250.7,214.4 250.2,214.5 249.7,214.6 249.2,214.7 248.7,214.8 248.2,214.9 247.7,215.0 247.2,215.1 246.7,215.2 246.2,215.3 245.7,215.4 245.2,215.5 244.7,215.6 244.2,215.7 243.7,215.8 243.2,215.9 242.7,216.0 242.2,216.1 241.7,216.2 241.2,216.3 240.7,216.4 240.2,216.5 239.7,216.6 239.2,216.7 238.7,216.8 238.2,216.9 237.7,217.0 237.2,217.1 236.7,217.2 236.2,217.3 235.7,217.4 235.2,217.5 234.7,217.6 234.2,217.7 Z" fill="#63c593" fill-opacity="0.85" stroke="#63c593" stroke-width="0.3"/>
<path d="M229.2,218.4 229.7,218.4 230.2,218.3 230.7,218.3 231.2,218.2 231.7,218.2 232.2,218.1 232.7,218.0 233.2,217.8 233.7,217.7 234.2,217.6 234.7,217.5 235.2,217.3 235.7,217.2 236.2,217.1 236.7,216.9 237.2,216.8 237.7,216.6 238.2,216.5 238.7,216.3 239.2,216.2 239.7,216.0 240.2,215.8 240.7,215.6 241.2,215.4 241.7,215.3 242.2,215.1 242.7,214.9 243.2,214.6 243.7,214.4 244.2,214.2 244.7,213.9 245.2,213.7 245.7,213.4 246.2,213.2 246.7,212.9 247.2,212.6 247.7,212.3 248.2,212.0 248.7,211.7 249.2,211.4 249.7,211.1 250.2,210.8 250.7,210.5 251.2,210.2 251.7,209.9 252.2,209.6 252.7,209.3 253.2,209.0 253.7,208.7 254.2,208.4 254.7,208.1 255.2,207.8 255.7,207.5 256.2,207.2 256.7,207.0 257.2,206.7 257.7,206.5 258.2,206.3 258.7,206.0 259.2,205.8 259.7,205.7 260.2,205.5 260.7,205.4 261.2,205.3 261.7,205.2 262.2,205.1 262.7,205.1 263.2,205.0 263.7,205.0 264.2,205.1 264.7,205.1 265.2,205.1 265.7,205.2 266.2,205.3 266.7,205.4 267.2,205.5 267.7,205.6 268.2,205.8 268.7,205.9 269.2,206.1 269.7,206.3 270.2,206.5 270.7,206.6 271.2,206.8 271.7,207.0 272.2,207.2 272.7,207.5 273.2,207.7 273.7,207.9 274.2,208.1 274.7,208.3 275.2,208.5 275.7,208.7 276.2,208.9 276.7,209.1 277.2,209.3 277.7,209.4 278.2,209.6 278.7,209.8 279.2,209.9 279.7,210.0 280.2,210.2 280.7,210.3 281.2,210.4 281.7,210.5 282.2,210.6 282.7,210.7 283.2,210.7 283.7,210.8 284.2,210.9 284.7,210.9 285.2,211.0 285.7,211.0 286.2,211.0 286.7,211.1 287.2,211.1 287.7,211.1 288.2,211.1 288.7,211.1 289.2,211.2 289.7,211.2 290.2,211.2 290.7,211.2 291.2,211.2 291.7,211.1 292.2,211.1 292.7,211.1 293.2,211.1 293.7,211.1 294.2,211.1 294.7,211.1 295.2,211.1 295.7,211.1 295.7,211.1 295.2,211.1 294.7,211.1 294.2,211.1 293.7,211.2 293.2,211.2 292.7,211.2 292.2,211.2 291.7,211.3 291.2,211.3 290.7,211.3 290.2,211.3 289.7,211.4 289.2,211.4 288.7,211.4 288.2,211.4 287.7,211.5 287.2,211.5 286.7,211.5 286.2,211.5 285.7,211.6 285.2,211.6 284.7,211.6 284.2,211.6 283.7,211.7 283.2,211.7 282.7,211.7 282.2,211.8 281.7,211.8 281.2,211.8 280.7,211.8 280.2,211.9 279.7,211.9 279.2,211.9 278.7,211.9 278.2,212.0 277.7,212.0 277.2,212.0 276.7,212.0 276.2,212.1 275.7,212.1 275.2,212.1 274.7,212.2 274.2,212.2 273.7,212.2 273.2,212.2 272.7,212.3 272.2,212.3 271.7,212.3 271.2,212.4 270.7,212.4 270.2,212.5 269.7,212.5 269.2,212.5 268.7,212.6 268.2,212.6 267.7,212.7 267.2,212.7 266.7,212.7 266.2,212.8 265.7,212.8 265.2,212.9 264.7,212.9 264.2,213.0 263.7,213.0 263.2,213.0 262.7,213.1 262.2,213.1 261.7,213.2 261.2,213.2 260.7,213.2 260.2,213.3 259.7,213.3 259.2,213.4 258.7,213.5 258.2,213.5 257.7,213.6 257.2,213.6 256.7,213.7 256.2,213.8 255.7,213.8 255.2,213.9 254.7,213.9 254.2,214.0 253.7,214.1 253.2,214.1 252.7,214.2 252.2,214.2 251.7,214.3 251.2,214.4 250.7,214.4 250.2,214.5 249.7,214.6 249.2,214.7 248.7,214.8 248.2,214.9 247.7,215.0 247.2,215.1 246.7,215.2 246.2,215.3 245.7,215.4 245.2,215.5 244.7,215.6 244.2,215.7 243.7,215.8 243.2,215.9 242.7,216.0 242.2,216.1 241.7,216.2 241.2,216.3 240.7,216.4 240.2,216.5 239.7,216.6 239.2,216.7 238.7,216.8 238.2,216.9 237.7,217.0 237.2,217.1 236.7,217.2 236.2,217.3 235.7,217.4 235.2,217.5 234.7,217.6 234.2,217.7 233.7,217.8 233.2,217.9 232.7,218.1 232.2,218.2 231.7,218.2 231.2,218.3 230.7,218.3 230.2,218.4 229.7,218.4 229.2,218.5 Z" fill="#bb8ce8" fill-opacity="1" stroke="#bb8ce8" stroke-width="0.3"/>
<path d="M293.7,211.1 294.2,211.1 294.7,211.0 295.2,211.0 295.7,210.9 296.2,210.8 296.7,210.7 297.2,210.6 297.7,210.4 298.2,210.2 298.7,209.9 299.2,209.5 299.7,209.2 300.2,208.7 300.7,208.2 301.2,207.7 301.7,207.1 302.2,206.6 302.7,206.1 303.2,205.7 303.7,205.3 304.2,205.0 304.7,204.8 305.2,204.8 305.7,204.9 306.2,205.0 306.7,205.3 307.2,205.7 307.7,206.1 308.2,206.5 308.7,207.0 309.2,207.4 309.7,207.9 310.2,208.3 310.7,208.6 311.2,208.9 311.7,209.2 312.2,209.3 312.7,209.5 313.2,209.6 313.7,209.7 314.2,209.7 314.7,209.7 315.2,209.8 315.7,209.7 316.2,209.7 316.2,209.8 315.7,209.8 315.2,209.8 314.7,209.9 314.2,209.9 313.7,209.9 313.2,210.0 312.7,210.0 312.2,210.0 311.7,210.1 311.2,210.1 310.7,210.2 310.2,210.2 309.7,210.2 309.2,210.3 308.7,210.3 308.2,210.3 307.7,210.4 307.2,210.4 306.7,210.5 306.2,210.5 305.7,210.5 305.2,210.6 304.7,210.6 304.2,210.7 303.7,210.7 303.2,210.7 302.7,210.8 302.2,210.8 301.7,210.9 301.2,210.9 300.7,210.9 300.2,211.0 299.7,211.0 299.2,211.0 298.7,211.0 298.2,211.0 297.7,211.0 297.2,211.1 296.7,211.1 296.2,211.1 295.7,211.1 295.2,211.1 294.7,211.1 294.2,211.1 293.7,211.2 Z" fill="#f06464" fill-opacity="1" stroke="#f06464" stroke-width="0.3"/>
<path d="M298.7,211.0 299.2,211.0 299.7,210.9 300.2,210.9 300.7,210.8 301.2,210.7 301.7,210.6 302.2,210.5 302.7,210.4 303.2,210.2 303.7,210.0 304.2,209.8 304.7,209.6 305.2,209.3 305.7,209.1 306.2,208.8 306.7,208.4 307.2,208.1 307.7,207.8 308.2,207.5 308.7,207.2 309.2,206.9 309.7,206.6 310.2,206.4 310.7,206.2 311.2,206.1 311.7,206.1 312.2,206.1 312.7,206.1 313.2,206.3 313.7,206.4 314.2,206.6 314.7,206.8 315.2,207.1 315.7,207.3 316.2,207.6 316.7,207.8 317.2,208.1 317.7,208.3 318.2,208.5 318.7,208.6 319.2,208.8 319.7,208.9 320.2,209.0 320.7,209.1 321.2,209.2 321.7,209.2 322.2,209.2 322.7,209.3 323.2,209.3 323.7,209.3 324.2,209.3 324.7,209.3 324.7,209.3 324.2,209.3 323.7,209.3 323.2,209.4 322.7,209.4 322.2,209.4 321.7,209.4 321.2,209.4 320.7,209.5 320.2,209.5 319.7,209.5 319.2,209.6 318.7,209.6 318.2,209.6 317.7,209.7 317.2,209.7 316.7,209.7 316.2,209.8 315.7,209.8 315.2,209.8 314.7,209.9 314.2,209.9 313.7,209.9 313.2,210.0 312.7,210.0 312.2,210.0 311.7,210.1 311.2,210.1 310.7,210.2 310.2,210.2 309.7,210.2 309.2,210.3 308.7,210.3 308.2,210.3 307.7,210.4 307.2,210.4 306.7,210.5 306.2,210.5 305.7,210.5 305.2,210.6 304.7,210.6 304.2,210.7 303.7,210.7 303.2,210.7 302.7,210.8 302.2,210.8 301.7,210.9 301.2,210.9 300.7,210.9 300.2,211.0 299.7,211.0 299.2,211.0 298.7,211.0 Z" fill="#63c593" fill-opacity="0.85" stroke="#63c593" stroke-width="0.3"/>
<path d="M307.2,210.4 307.7,210.3 308.2,210.3 308.7,210.3 309.2,210.2 309.7,210.1 310.2,210.1 310.7,210.0 311.2,210.0 311.7,209.9 312.2,209.9 312.7,209.8 313.2,209.8 313.7,209.7 314.2,209.6 314.7,209.5 315.2,209.4 315.7,209.4 316.2,209.3 316.7,209.2 317.2,209.1 317.7,209.0 318.2,208.9 318.7,208.7 319.2,208.6 319.7,208.5 320.2,208.4 320.7,208.2 321.2,208.1 321.7,208.0 322.2,207.9 322.7,207.7 323.2,207.6 323.7,207.4 324.2,207.3 324.7,207.2 325.2,207.0 325.7,206.9 326.2,206.8 326.7,206.7 327.2,206.6 327.7,206.5 328.2,206.4 328.7,206.3 329.2,206.2 329.7,206.1 330.2,206.1 330.7,206.0 331.2,206.0 331.7,206.0 332.2,206.0 332.7,206.0 333.2,206.0 333.7,206.0 334.2,206.1 334.7,206.1 335.2,206.2 335.7,206.2 336.2,206.3 336.7,206.4 337.2,206.4 337.7,206.5 338.2,206.6 338.7,206.7 339.2,206.8 339.7,206.9 340.2,207.0 340.7,207.1 341.2,207.2 341.7,207.2 342.2,207.3 342.7,207.4 343.2,207.5 343.7,207.5 344.2,207.6 344.7,207.7 345.2,207.7 345.7,207.8 346.2,207.8 346.7,207.8 347.2,207.9 347.7,207.9 348.2,207.9 348.7,207.9 349.2,207.9 349.7,208.0 350.2,208.0 350.7,208.0 351.2,208.0 351.7,208.0 352.2,208.0 352.7,207.9 353.2,207.9 353.7,207.9 354.2,207.9 354.7,207.9 355.2,207.9 355.2,207.9 354.7,207.9 354.2,208.0 353.7,208.0 353.2,208.0 352.7,208.0 352.2,208.1 351.7,208.1 351.2,208.1 350.7,208.1 350.2,208.2 349.7,208.2 349.2,208.2 348.7,208.2 348.2,208.2 347.7,208.3 347.2,208.3 346.7,208.3 346.2,208.3 345.7,208.4 345.2,208.4 344.7,208.4 344.2,208.4 343.7,208.5 343.2,208.5 342.7,208.5 342.2,208.5 341.7,208.5 341.2,208.6 340.7,208.6 340.2,208.6 339.7,208.6 339.2,208.7 338.7,208.7 338.2,208.7 337.7,208.7 337.2,208.7 336.7,208.8 336.2,208.8 335.7,208.8 335.2,208.8 334.7,208.9 334.2,208.9 333.7,208.9 333.2,208.9 332.7,208.9 332.2,209.0 331.7,209.0 331.2,209.0 330.7,209.0 330.2,209.1 329.7,209.1 329.2,209.1 328.7,209.1 328.2,209.1 327.7,209.2 327.2,209.2 326.7,209.2 326.2,209.2 325.7,209.2 325.2,209.3 324.7,209.3 324.2,209.3 323.7,209.3 323.2,209.4 322.7,209.4 322.2,209.4 321.7,209.4 321.2,209.4 320.7,209.5 320.2,209.5 319.7,209.5 319.2,209.6 318.7,209.6 318.2,209.6 317.7,209.7 317.2,209.7 316.7,209.7 316.2,209.8 315.7,209.8 315.2,209.8 314.7,209.9 314.2,209.9 313.7,209.9 313.2,210.0 312.7,210.0 312.2,210.0 311.7,210.1 311.2,210.1 310.7,210.2 310.2,210.2 309.7,210.2 309.2,210.3 308.7,210.3 308.2,210.3 307.7,210.4 307.2,210.4 Z" fill="#bb8ce8" fill-opacity="1" stroke="#bb8ce8" stroke-width="0.3"/>
<path d="M218.2,218.9 218.7,218.9 219.2,218.9 219.7,218.9 220.2,218.9 220.7,218.9 221.2,218.9 221.7,218.9 222.2,218.8 222.7,218.8 223.2,218.8 223.7,218.8 224.2,218.8 224.7,218.8 225.2,218.8 225.7,218.8 226.2,218.8 226.7,218.7 227.2,218.7 227.7,218.6 228.2,218.6 228.7,218.5 229.2,218.5 229.7,218.4 230.2,218.4 230.7,218.3 231.2,218.3 231.7,218.2 232.2,218.2 232.7,218.1 233.2,217.9 233.7,217.8 234.2,217.7 234.7,217.6 235.2,217.5 235.7,217.4 236.2,217.3 236.7,217.2 237.2,217.1 237.7,217.0 238.2,216.9 238.7,216.8 239.2,216.7 239.7,216.6 240.2,216.5 240.7,216.4 241.2,216.3 241.7,216.2 242.2,216.1 242.7,216.0 243.2,215.9 243.7,215.8 244.2,215.7 244.7,215.6 245.2,215.5 245.7,215.4 246.2,215.3 246.7,215.2 247.2,215.1 247.7,215.0 248.2,214.9 248.7,214.8 249.2,214.7 249.7,214.6 250.2,214.5 250.7,214.4 251.2,214.4 251.7,214.3 252.2,214.2 252.7,214.2 253.2,214.1 253.7,214.1 254.2,214.0 254.7,213.9 255.2,213.9 255.7,213.8 256.2,213.8 256.7,213.7 257.2,213.6 257.7,213.6 258.2,213.5 258.7,213.5 259.2,213.4 259.7,213.3 260.2,213.3 260.7,213.2 261.2,213.2 261.7,213.2 262.2,213.1 262.7,213.1 263.2,213.0 263.7,213.0 264.2,213.0 264.7,212.9 265.2,212.9 265.7,212.8 266.2,212.8 266.7,212.7 267.2,212.7 267.7,212.7 268.2,212.6 268.7,212.6 269.2,212.5 269.7,212.5 270.2,212.5 270.7,212.4 271.2,212.4 271.7,212.3 272.2,212.3 272.7,212.3 273.2,212.2 273.7,212.2 274.2,212.2 274.7,212.2 275.2,212.1 275.7,212.1 276.2,212.1 276.7,212.0 277.2,212.0 277.7,212.0 278.2,212.0 278.7,211.9 279.2,211.9 279.7,211.9 280.2,211.9 280.7,211.8 281.2,211.8 281.7,211.8 282.2,211.8 282.7,211.7 283.2,211.7 283.7,211.7 284.2,211.6 284.7,211.6 285.2,211.6 285.7,211.6 286.2,211.5 286.7,211.5 287.2,211.5 287.7,211.5 288.2,211.4 288.7,211.4 289.2,211.4 289.7,211.4 290.2,211.3 290.7,211.3 291.2,211.3 291.7,211.3 292.2,211.2 292.7,211.2 293.2,211.2 293.7,211.2 294.2,211.1 294.7,211.1 295.2,211.1 295.7,211.1 296.2,211.1 296.7,211.1 297.2,211.1 297.7,211.0 298.2,211.0 298.7,211.0 299.2,211.0 299.7,211.0 300.2,211.0 300.7,210.9 301.2,210.9 301.7,210.9 302.2,210.8 302.7,210.8 303.2,210.7 303.7,210.7 304.2,210.7 304.7,210.6 305.2,210.6 305.7,210.5 306.2,210.5 306.7,210.5 307.2,210.4 307.7,210.4 308.2,210.3 308.7,210.3 309.2,210.3 309.7,210.2 310.2,210.2 310.7,210.2 311.2,210.1 311.7,210.1 312.2,210.0 312.7,210.0 313.2,210.0 313.7,209.9 314.2,209.9 314.7,209.9 315.2,209.8 315.7,209.8 316.2,209.8 316.7,209.7 317.2,209.7 317.7,209.7 318.2,209.6 318.7,209.6 319.2,209.6 319.7,209.5 320.2,209.5 320.7,209.5 321.2,209.4 321.7,209.4 322.2,209.4 322.7,209.4 323.2,209.4 323.7,209.3 324.2,209.3 324.7,209.3 325.2,209.3 325.7,209.2 326.2,209.2 326.7,209.2 327.2,209.2 327.7,209.2 328.2,209.1 328.7,209.1 329.2,209.1 329.7,209.1 330.2,209.1 330.7,209.0 331.2,209.0 331.7,209.0 332.2,209.0 332.7,208.9 333.2,208.9 333.7,208.9 334.2,208.9 334.7,208.9 335.2,208.8 335.7,208.8 336.2,208.8 336.7,208.8 337.2,208.7 337.7,208.7 338.2,208.7 338.7,208.7 339.2,208.7 339.7,208.6 340.2,208.6 340.7,208.6 341.2,208.6 341.7,208.5 342.2,208.5 342.7,208.5 343.2,208.5 343.7,208.5 344.2,208.4 344.7,208.4 345.2,208.4 345.7,208.4 346.2,208.3 346.7,208.3 347.2,208.3 347.7,208.3 348.2,208.2 348.7,208.2 349.2,208.2 349.7,208.2 350.2,208.2 350.7,208.1 351.2,208.1 351.7,208.1 352.2,208.1 352.7,208.0 353.2,208.0 353.7,208.0 354.2,208.0 354.7,207.9 355.2,207.9 355.7,207.9 356.2,207.9 356.7,207.8 357.2,207.8 357.7,207.8 358.2,207.8 358.7,207.8 359.2,207.7" stroke="#5a5a5a" stroke-width="0.7" fill="none" stroke-linejoin="round"/>
<path d="M217.7,218.9 C218.4,218.9 220.6,219.1 222.0,219.0 C223.4,218.9 224.8,218.9 226.0,218.6 C227.2,218.3 228.3,218.0 229.2,217.2 C230.1,216.4 230.7,215.2 231.5,213.8 C232.3,212.4 233.0,211.1 233.9,208.9 C234.8,206.7 236.0,202.8 236.9,200.5 C237.8,198.2 238.6,196.4 239.3,195.3 C240.0,194.2 240.3,194.1 241.1,194.1 C241.9,194.1 243.1,194.4 244.1,195.3 C245.1,196.2 245.9,198.0 247.1,199.3 C248.3,200.6 249.9,202.1 251.2,202.9 C252.5,203.7 253.3,203.8 254.8,204.1 C256.3,204.4 258.1,204.4 260.2,204.7 C262.3,205.0 265.3,205.4 267.3,205.9 C269.3,206.4 269.9,206.8 272.0,207.5 C274.1,208.2 277.2,209.4 280.0,210.0 C282.8,210.6 286.3,210.9 288.6,211.0 C290.9,211.1 292.4,211.0 294.0,210.6 C295.6,210.2 296.7,209.6 298.0,208.5 C299.3,207.4 300.6,205.1 302.0,204.0 C303.4,202.9 304.8,201.9 306.1,201.8 C307.4,201.7 308.8,202.6 310.0,203.2 C311.2,203.8 312.1,204.7 313.6,205.3 C315.1,205.9 317.2,206.8 319.1,207.0 C321.0,207.2 322.9,206.5 325.0,206.2 C327.1,205.9 329.2,205.3 331.4,205.3 C333.6,205.3 335.7,205.8 338.0,206.2 C340.3,206.6 341.4,207.2 345.0,207.5 C348.6,207.8 357.3,207.7 359.8,207.7" stroke="#999" stroke-width="1.0" fill="none"/>
<path d="M221.7,256.4 222.2,256.3 222.7,256.3 223.2,256.1 223.7,256.0 224.2,255.7 224.7,255.2 225.2,254.7 225.7,253.9 226.2,252.9 226.7,251.7 227.2,250.1 227.7,248.3 228.2,246.1 228.7,243.5 229.2,240.7 229.7,237.9 230.2,235.1 230.7,232.5 231.2,230.3 231.7,228.7 232.2,227.6 232.7,227.2 233.2,227.4 233.7,228.3 234.2,229.8 234.7,231.7 235.2,233.8 235.7,235.9 236.2,238.2 236.7,240.3 237.2,242.2 237.7,243.8 238.2,245.1 238.7,246.1 239.2,246.8 239.7,247.3 240.2,247.6 240.7,247.9 241.2,248.1 241.7,248.2 242.2,248.3 242.7,248.3 243.2,248.3 243.2,248.3 242.7,248.4 242.2,248.4 241.7,248.5 241.2,248.5 240.7,248.5 240.2,248.6 239.7,248.7 239.2,248.9 238.7,249.1 238.2,249.2 237.7,249.4 237.2,249.6 236.7,249.8 236.2,249.9 235.7,250.2 235.2,250.6 234.7,250.9 234.2,251.3 233.7,251.6 233.2,252.0 232.7,252.3 232.2,252.7 231.7,253.0 231.2,253.3 230.7,253.6 230.2,253.9 229.7,254.2 229.2,254.5 228.7,254.8 228.2,255.1 227.7,255.3 227.2,255.4 226.7,255.6 226.2,255.7 225.7,255.8 225.2,256.0 224.7,256.1 224.2,256.2 223.7,256.3 223.2,256.4 222.7,256.4 222.2,256.4 221.7,256.4 Z" fill="#f06464" fill-opacity="1" stroke="#f06464" stroke-width="0.3"/>
<path d="M230.2,253.8 230.7,253.5 231.2,253.2 231.7,252.9 232.2,252.5 232.7,252.1 233.2,251.7 233.7,251.3 234.2,250.8 234.7,250.3 235.2,249.8 235.7,249.3 236.2,248.8 236.7,248.4 237.2,248.0 237.7,247.5 238.2,247.0 238.7,246.5 239.2,246.0 239.7,245.5 240.2,245.1 240.7,244.7 241.2,244.4 241.7,244.1 242.2,243.9 242.7,243.7 243.2,243.6 243.7,243.5 244.2,243.5 244.7,243.6 245.2,243.7 245.7,243.9 246.2,244.1 246.7,244.4 247.2,244.6 247.7,244.9 248.2,245.2 248.7,245.5 249.2,245.8 249.7,246.1 250.2,246.3 250.7,246.6 251.2,246.8 251.7,246.9 252.2,247.1 252.7,247.2 253.2,247.3 253.7,247.4 254.2,247.4 254.7,247.5 255.2,247.5 255.7,247.5 256.2,247.5 256.7,247.6 257.2,247.6 257.2,247.6 256.7,247.6 256.2,247.6 255.7,247.6 255.2,247.6 254.7,247.7 254.2,247.7 253.7,247.7 253.2,247.7 252.7,247.7 252.2,247.7 251.7,247.7 251.2,247.8 250.7,247.8 250.2,247.8 249.7,247.8 249.2,247.9 248.7,247.9 248.2,247.9 247.7,248.0 247.2,248.0 246.7,248.1 246.2,248.1 245.7,248.1 245.2,248.2 244.7,248.2 244.2,248.3 243.7,248.3 243.2,248.3 242.7,248.4 242.2,248.4 241.7,248.5 241.2,248.5 240.7,248.5 240.2,248.6 239.7,248.7 239.2,248.9 238.7,249.1 238.2,249.2 237.7,249.4 237.2,249.6 236.7,249.8 236.2,249.9 235.7,250.2 235.2,250.6 234.7,250.9 234.2,251.3 233.7,251.6 233.2,252.0 232.7,252.3 232.2,252.7 231.7,253.0 231.2,253.3 230.7,253.6 230.2,253.9 Z" fill="#63c593" fill-opacity="0.85" stroke="#63c593" stroke-width="0.3"/>
<path d="M230.7,253.5 231.2,253.2 231.7,252.9 232.2,252.6 232.7,252.2 233.2,251.9 233.7,251.5 234.2,251.2 234.7,250.8 235.2,250.4 235.7,250.1 236.2,249.7 236.7,249.5 237.2,249.3 237.7,249.1 238.2,248.9 238.7,248.7 239.2,248.5 239.7,248.3 240.2,248.1 240.7,248.0 241.2,247.9 241.7,247.8 242.2,247.7 242.7,247.6 243.2,247.5 243.7,247.3 244.2,247.2 244.7,247.1 245.2,246.9 245.7,246.8 246.2,246.7 246.7,246.5 247.2,246.4 247.7,246.2 248.2,246.1 248.7,245.9 249.2,245.8 249.7,245.6 250.2,245.5 250.7,245.3 251.2,245.2 251.7,245.1 252.2,245.0 252.7,244.9 253.2,244.8 253.7,244.7 254.2,244.6 254.7,244.5 255.2,244.4 255.7,244.3 256.2,244.3 256.7,244.2 257.2,244.2 257.7,244.2 258.2,244.2 258.7,244.1 259.2,244.2 259.7,244.2 260.2,244.2 260.7,244.2 261.2,244.3 261.7,244.3 262.2,244.4 262.7,244.5 263.2,244.5 263.7,244.6 264.2,244.7 264.7,244.8 265.2,244.9 265.7,245.0 266.2,245.1 266.7,245.2 267.2,245.3 267.7,245.4 268.2,245.5 268.7,245.6 269.2,245.7 269.7,245.7 270.2,245.8 270.7,245.9 271.2,246.0 271.7,246.1 272.2,246.2 272.7,246.3 273.2,246.4 273.7,246.4 274.2,246.5 274.7,246.5 275.2,246.6 275.7,246.7 276.2,246.7 276.7,246.7 277.2,246.8 277.7,246.8 278.2,246.8 278.7,246.9 279.2,246.9 279.7,246.9 280.2,246.9 280.7,246.9 281.2,246.9 281.7,247.0 282.2,247.0 282.7,247.0 283.2,247.0 283.7,246.9 284.2,246.9 284.7,246.9 285.2,246.9 285.2,247.0 284.7,247.0 284.2,247.0 283.7,247.0 283.2,247.0 282.7,247.0 282.2,247.0 281.7,247.1 281.2,247.1 280.7,247.1 280.2,247.1 279.7,247.1 279.2,247.1 278.7,247.1 278.2,247.1 277.7,247.1 277.2,247.1 276.7,247.1 276.2,247.1 275.7,247.1 275.2,247.1 274.7,247.2 274.2,247.2 273.7,247.2 273.2,247.2 272.7,247.2 272.2,247.2 271.7,247.2 271.2,247.2 270.7,247.2 270.2,247.2 269.7,247.2 269.2,247.2 268.7,247.2 268.2,247.3 267.7,247.3 267.2,247.3 266.7,247.3 266.2,247.3 265.7,247.3 265.2,247.3 264.7,247.4 264.2,247.4 263.7,247.4 263.2,247.4 262.7,247.4 262.2,247.4 261.7,247.4 261.2,247.5 260.7,247.5 260.2,247.5 259.7,247.5 259.2,247.5 258.7,247.5 258.2,247.6 257.7,247.6 257.2,247.6 256.7,247.6 256.2,247.6 255.7,247.6 255.2,247.6 254.7,247.7 254.2,247.7 253.7,247.7 253.2,247.7 252.7,247.7 252.2,247.7 251.7,247.7 251.2,247.8 250.7,247.8 250.2,247.8 249.7,247.8 249.2,247.9 248.7,247.9 248.2,247.9 247.7,248.0 247.2,248.0 246.7,248.1 246.2,248.1 245.7,248.1 245.2,248.2 244.7,248.2 244.2,248.3 243.7,248.3 243.2,248.3 242.7,248.4 242.2,248.4 241.7,248.5 241.2,248.5 240.7,248.5 240.2,248.6 239.7,248.7 239.2,248.9 238.7,249.1 238.2,249.2 237.7,249.4 237.2,249.6 236.7,249.8 236.2,249.9 235.7,250.2 235.2,250.6 234.7,250.9 234.2,251.3 233.7,251.6 233.2,252.0 232.7,252.3 232.2,252.7 231.7,253.0 231.2,253.3 230.7,253.6 Z" fill="#bb8ce8" fill-opacity="1" stroke="#bb8ce8" stroke-width="0.3"/>
<path d="M284.2,247.0 284.7,246.9 285.2,246.9 285.7,246.8 286.2,246.7 286.7,246.5 287.2,246.3 287.7,246.0 288.2,245.5 288.7,244.9 289.2,244.2 289.7,243.3 290.2,242.4 290.7,241.5 291.2,240.6 291.7,239.7 292.2,239.0 292.7,238.4 293.2,238.1 293.7,237.9 294.2,238.0 294.7,238.4 295.2,238.8 295.7,239.4 296.2,240.1 296.7,240.7 297.2,241.4 297.7,241.9 298.2,242.3 298.7,242.6 299.2,242.9 299.7,243.1 300.2,243.3 300.7,243.4 301.2,243.4 301.7,243.4 302.2,243.4 302.7,243.4 302.7,243.4 302.2,243.5 301.7,243.5 301.2,243.6 300.7,243.6 300.2,243.7 299.7,243.7 299.2,243.8 298.7,243.9 298.2,244.0 297.7,244.2 297.2,244.3 296.7,244.5 296.2,244.6 295.7,244.8 295.2,244.9 294.7,245.1 294.2,245.2 293.7,245.4 293.2,245.5 292.7,245.7 292.2,245.8 291.7,245.9 291.2,246.1 290.7,246.2 290.2,246.3 289.7,246.5 289.2,246.6 288.7,246.7 288.2,246.8 287.7,246.9 287.2,246.9 286.7,246.9 286.2,246.9 285.7,247.0 285.2,247.0 284.7,247.0 284.2,247.0 Z" fill="#f06464" fill-opacity="1" stroke="#f06464" stroke-width="0.3"/>
<path d="M290.7,246.2 291.2,246.0 291.7,245.9 292.2,245.7 292.7,245.6 293.2,245.4 293.7,245.3 294.2,245.1 294.7,244.9 295.2,244.7 295.7,244.5 296.2,244.2 296.7,244.0 297.2,243.8 297.7,243.5 298.2,243.3 298.7,243.0 299.2,242.7 299.7,242.5 300.2,242.3 300.7,242.1 301.2,241.9 301.7,241.6 302.2,241.4 302.7,241.1 303.2,240.9 303.7,240.7 304.2,240.5 304.7,240.3 305.2,240.1 305.7,239.9 306.2,239.8 306.7,239.7 307.2,239.6 307.7,239.5 308.2,239.5 308.7,239.5 309.2,239.5 309.7,239.6 310.2,239.7 310.7,239.8 311.2,239.9 311.7,240.0 312.2,240.2 312.7,240.4 313.2,240.5 313.7,240.7 314.2,240.9 314.7,241.0 315.2,241.2 315.7,241.3 316.2,241.4 316.7,241.5 317.2,241.6 317.7,241.7 318.2,241.8 318.7,241.9 319.2,241.9 319.7,242.0 320.2,242.0 320.7,242.0 321.2,242.0 321.7,242.0 322.2,242.1 322.7,242.1 323.2,242.0 323.7,242.0 324.2,242.0 324.2,242.1 323.7,242.1 323.2,242.1 322.7,242.1 322.2,242.2 321.7,242.2 321.2,242.2 320.7,242.2 320.2,242.2 319.7,242.3 319.2,242.3 318.7,242.3 318.2,242.3 317.7,242.4 317.2,242.4 316.7,242.4 316.2,242.4 315.7,242.4 315.2,242.5 314.7,242.5 314.2,242.5 313.7,242.5 313.2,242.6 312.7,242.6 312.2,242.6 311.7,242.6 311.2,242.6 310.7,242.7 310.2,242.7 309.7,242.7 309.2,242.8 308.7,242.8 308.2,242.9 307.7,242.9 307.2,243.0 306.7,243.0 306.2,243.1 305.7,243.1 305.2,243.2 304.7,243.2 304.2,243.3 303.7,243.3 303.2,243.4 302.7,243.4 302.2,243.5 301.7,243.5 301.2,243.6 300.7,243.6 300.2,243.7 299.7,243.7 299.2,243.8 298.7,243.9 298.2,244.0 297.7,244.2 297.2,244.3 296.7,244.5 296.2,244.6 295.7,244.8 295.2,244.9 294.7,245.1 294.2,245.2 293.7,245.4 293.2,245.5 292.7,245.7 292.2,245.8 291.7,245.9 291.2,246.1 290.7,246.2 Z" fill="#63c593" fill-opacity="0.85" stroke="#63c593" stroke-width="0.3"/>
<path d="M308.7,242.8 309.2,242.7 309.7,242.7 310.2,242.6 310.7,242.6 311.2,242.6 311.7,242.5 312.2,242.5 312.7,242.4 313.2,242.4 313.7,242.3 314.2,242.3 314.7,242.2 315.2,242.2 315.7,242.1 316.2,242.0 316.7,242.0 317.2,241.9 317.7,241.8 318.2,241.7 318.7,241.6 319.2,241.5 319.7,241.4 320.2,241.3 320.7,241.2 321.2,241.1 321.7,241.0 322.2,240.9 322.7,240.8 323.2,240.7 323.7,240.6 324.2,240.5 324.7,240.4 325.2,240.3 325.7,240.2 326.2,240.1 326.7,240.0 327.2,239.9 327.7,239.8 328.2,239.8 328.7,239.7 329.2,239.7 329.7,239.6 330.2,239.6 330.7,239.6 331.2,239.6 331.7,239.6 332.2,239.6 332.7,239.6 333.2,239.7 333.7,239.7 334.2,239.8 334.7,239.8 335.2,239.9 335.7,240.0 336.2,240.0 336.7,240.1 337.2,240.2 337.7,240.3 338.2,240.3 338.7,240.4 339.2,240.5 339.7,240.6 340.2,240.6 340.7,240.7 341.2,240.8 341.7,240.8 342.2,240.9 342.7,240.9 343.2,241.0 343.7,241.0 344.2,241.0 344.7,241.1 345.2,241.1 345.7,241.1 346.2,241.1 346.7,241.2 347.2,241.2 347.7,241.2 348.2,241.2 348.7,241.2 349.2,241.2 349.7,241.2 350.2,241.2 350.7,241.2 351.2,241.2 351.7,241.2 351.7,241.2 351.2,241.2 350.7,241.2 350.2,241.3 349.7,241.3 349.2,241.3 348.7,241.3 348.2,241.3 347.7,241.3 347.2,241.3 346.7,241.4 346.2,241.4 345.7,241.4 345.2,241.4 344.7,241.4 344.2,241.4 343.7,241.4 343.2,241.4 342.7,241.5 342.2,241.5 341.7,241.5 341.2,241.5 340.7,241.5 340.2,241.5 339.7,241.5 339.2,241.6 338.7,241.6 338.2,241.6 337.7,241.6 337.2,241.6 336.7,241.6 336.2,241.6 335.7,241.6 335.2,241.7 334.7,241.7 334.2,241.7 333.7,241.7 333.2,241.7 332.7,241.7 332.2,241.7 331.7,241.8 331.2,241.8 330.7,241.8 330.2,241.8 329.7,241.8 329.2,241.8 328.7,241.9 328.2,241.9 327.7,241.9 327.2,241.9 326.7,241.9 326.2,242.0 325.7,242.0 325.2,242.0 324.7,242.0 324.2,242.1 323.7,242.1 323.2,242.1 322.7,242.1 322.2,242.2 321.7,242.2 321.2,242.2 320.7,242.2 320.2,242.2 319.7,242.3 319.2,242.3 318.7,242.3 318.2,242.3 317.7,242.4 317.2,242.4 316.7,242.4 316.2,242.4 315.7,242.4 315.2,242.5 314.7,242.5 314.2,242.5 313.7,242.5 313.2,242.6 312.7,242.6 312.2,242.6 311.7,242.6 311.2,242.6 310.7,242.7 310.2,242.7 309.7,242.7 309.2,242.8 308.7,242.8 Z" fill="#bb8ce8" fill-opacity="1" stroke="#bb8ce8" stroke-width="0.3"/>
<path d="M218.2,256.7 218.7,256.6 219.2,256.6 219.7,256.6 220.2,256.5 220.7,256.5 221.2,256.5 221.7,256.4 222.2,256.4 222.7,256.4 223.2,256.4 223.7,256.3 224.2,256.2 224.7,256.1 225.2,256.0 225.7,255.8 226.2,255.7 226.7,255.6 227.2,255.4 227.7,255.3 228.2,255.1 228.7,254.8 229.2,254.5 229.7,254.2 230.2,253.9 230.7,253.6 231.2,253.3 231.7,253.0 232.2,252.7 232.7,252.3 233.2,252.0 233.7,251.6 234.2,251.3 234.7,250.9 235.2,250.6 235.7,250.2 236.2,249.9 236.7,249.8 237.2,249.6 237.7,249.4 238.2,249.2 238.7,249.1 239.2,248.9 239.7,248.7 240.2,248.6 240.7,248.5 241.2,248.5 241.7,248.5 242.2,248.4 242.7,248.4 243.2,248.3 243.7,248.3 244.2,248.3 244.7,248.2 245.2,248.2 245.7,248.1 246.2,248.1 246.7,248.1 247.2,248.0 247.7,248.0 248.2,247.9 248.7,247.9 249.2,247.9 249.7,247.8 250.2,247.8 250.7,247.8 251.2,247.8 251.7,247.7 252.2,247.7 252.7,247.7 253.2,247.7 253.7,247.7 254.2,247.7 254.7,247.7 255.2,247.6 255.7,247.6 256.2,247.6 256.7,247.6 257.2,247.6 257.7,247.6 258.2,247.6 258.7,247.5 259.2,247.5 259.7,247.5 260.2,247.5 260.7,247.5 261.2,247.5 261.7,247.4 262.2,247.4 262.7,247.4 263.2,247.4 263.7,247.4 264.2,247.4 264.7,247.4 265.2,247.3 265.7,247.3 266.2,247.3 266.7,247.3 267.2,247.3 267.7,247.3 268.2,247.3 268.7,247.2 269.2,247.2 269.7,247.2 270.2,247.2 270.7,247.2 271.2,247.2 271.7,247.2 272.2,247.2 272.7,247.2 273.2,247.2 273.7,247.2 274.2,247.2 274.7,247.2 275.2,247.1 275.7,247.1 276.2,247.1 276.7,247.1 277.2,247.1 277.7,247.1 278.2,247.1 278.7,247.1 279.2,247.1 279.7,247.1 280.2,247.1 280.7,247.1 281.2,247.1 281.7,247.1 282.2,247.0 282.7,247.0 283.2,247.0 283.7,247.0 284.2,247.0 284.7,247.0 285.2,247.0 285.7,247.0 286.2,246.9 286.7,246.9 287.2,246.9 287.7,246.9 288.2,246.8 288.7,246.7 289.2,246.6 289.7,246.5 290.2,246.3 290.7,246.2 291.2,246.1 291.7,245.9 292.2,245.8 292.7,245.7 293.2,245.5 293.7,245.4 294.2,245.2 294.7,245.1 295.2,244.9 295.7,244.8 296.2,244.6 296.7,244.5 297.2,244.3 297.7,244.2 298.2,244.0 298.7,243.9 299.2,243.8 299.7,243.7 300.2,243.7 300.7,243.6 301.2,243.6 301.7,243.5 302.2,243.5 302.7,243.4 303.2,243.4 303.7,243.3 304.2,243.3 304.7,243.2 305.2,243.2 305.7,243.1 306.2,243.1 306.7,243.0 307.2,243.0 307.7,242.9 308.2,242.9 308.7,242.8 309.2,242.8 309.7,242.7 310.2,242.7 310.7,242.7 311.2,242.6 311.7,242.6 312.2,242.6 312.7,242.6 313.2,242.6 313.7,242.5 314.2,242.5 314.7,242.5 315.2,242.5 315.7,242.4 316.2,242.4 316.7,242.4 317.2,242.4 317.7,242.4 318.2,242.3 318.7,242.3 319.2,242.3 319.7,242.3 320.2,242.2 320.7,242.2 321.2,242.2 321.7,242.2 322.2,242.2 322.7,242.1 323.2,242.1 323.7,242.1 324.2,242.1 324.7,242.0 325.2,242.0 325.7,242.0 326.2,242.0 326.7,241.9 327.2,241.9 327.7,241.9 328.2,241.9 328.7,241.9 329.2,241.8 329.7,241.8 330.2,241.8 330.7,241.8 331.2,241.8 331.7,241.8 332.2,241.7 332.7,241.7 333.2,241.7 333.7,241.7 334.2,241.7 334.7,241.7 335.2,241.7 335.7,241.6 336.2,241.6 336.7,241.6 337.2,241.6 337.7,241.6 338.2,241.6 338.7,241.6 339.2,241.6 339.7,241.5 340.2,241.5 340.7,241.5 341.2,241.5 341.7,241.5 342.2,241.5 342.7,241.5 343.2,241.4 343.7,241.4 344.2,241.4 344.7,241.4 345.2,241.4 345.7,241.4 346.2,241.4 346.7,241.4 347.2,241.3 347.7,241.3 348.2,241.3 348.7,241.3 349.2,241.3 349.7,241.3 350.2,241.3 350.7,241.2 351.2,241.2 351.7,241.2 352.2,241.2 352.7,241.2 353.2,241.2 353.7,241.2 354.2,241.2 354.7,241.1 355.2,241.1 355.7,241.1 356.2,241.1 356.7,241.1 357.2,241.1 357.7,241.1 358.2,241.0 358.7,241.0 359.2,241.0" stroke="#5a5a5a" stroke-width="0.7" fill="none" stroke-linejoin="round"/>
<path d="M217.7,256.7 C218.4,256.7 220.9,256.7 222.0,256.5 C223.1,256.3 223.3,256.3 224.0,255.6 C224.7,254.9 225.5,254.3 226.2,252.5 C226.9,250.7 227.7,248.2 228.4,245.0 C229.1,241.8 229.9,236.5 230.6,233.5 C231.3,230.5 231.9,227.4 232.5,226.8 C233.1,226.2 233.7,228.6 234.3,230.0 C234.9,231.4 235.4,233.4 235.9,235.0 C236.4,236.6 236.8,238.4 237.3,239.8 C237.8,241.2 238.2,242.6 238.7,243.3 C239.1,244.0 239.2,244.2 240.0,244.2 C240.8,244.2 242.4,243.3 243.6,243.2 C244.8,243.1 245.6,243.4 247.0,243.6 C248.4,243.8 250.3,244.3 252.0,244.6 C253.7,244.9 255.1,245.0 257.3,245.2 C259.5,245.4 261.7,245.7 265.0,246.0 C268.3,246.3 273.5,246.7 277.0,246.8 C280.5,247.0 284.0,247.1 286.0,246.9 C288.0,246.7 288.1,246.6 289.0,245.5 C289.9,244.4 290.8,241.7 291.5,240.5 C292.2,239.3 292.7,238.4 293.4,238.4 C294.1,238.4 294.7,239.6 295.5,240.3 C296.3,241.0 296.9,242.3 298.0,242.6 C299.1,242.9 300.4,242.3 302.0,241.9 C303.6,241.5 305.8,240.5 307.6,240.3 C309.4,240.1 310.9,240.7 313.0,240.9 C315.1,241.1 317.1,241.4 320.0,241.3 C322.9,241.2 326.9,240.4 330.2,240.3 C333.5,240.2 335.1,240.7 340.0,240.8 C344.9,240.9 356.5,240.9 359.8,240.9" stroke="#7a7a7a" stroke-width="0.8" fill="none"/>
<line x1="232.5" y1="165.0" x2="232.5" y2="279.3" stroke="#f26a6a" stroke-width="0.75" stroke-dasharray="2.4 1.2 0.7 1.2" stroke-dashoffset="1.0"/>
<line x1="240.6" y1="165.0" x2="240.6" y2="279.3" stroke="#8a8a8a" stroke-width="0.75" stroke-dasharray="2.4 1.2 0.7 1.2" stroke-dashoffset="1.0"/>
<rect x="217.7" y="165.0" width="142.10000000000002" height="114.30000000000001" fill="none" stroke="#555555" stroke-width="1.25"/>
<line x1="217.70" y1="279.3" x2="217.70" y2="281.5" stroke="#333" stroke-width="1.1"/>
<line x1="227.85" y1="279.3" x2="227.85" y2="280.7" stroke="#333" stroke-width="1.1"/>
<line x1="238.00" y1="279.3" x2="238.00" y2="281.5" stroke="#333" stroke-width="1.1"/>
<line x1="248.15" y1="279.3" x2="248.15" y2="280.7" stroke="#333" stroke-width="1.1"/>
<line x1="258.30" y1="279.3" x2="258.30" y2="281.5" stroke="#333" stroke-width="1.1"/>
<line x1="268.45" y1="279.3" x2="268.45" y2="280.7" stroke="#333" stroke-width="1.1"/>
<line x1="278.60" y1="279.3" x2="278.60" y2="281.5" stroke="#333" stroke-width="1.1"/>
<line x1="288.75" y1="279.3" x2="288.75" y2="280.7" stroke="#333" stroke-width="1.1"/>
<line x1="298.90" y1="279.3" x2="298.90" y2="281.5" stroke="#333" stroke-width="1.1"/>
<line x1="309.05" y1="279.3" x2="309.05" y2="280.7" stroke="#333" stroke-width="1.1"/>
<line x1="319.20" y1="279.3" x2="319.20" y2="281.5" stroke="#333" stroke-width="1.1"/>
<line x1="329.35" y1="279.3" x2="329.35" y2="280.7" stroke="#333" stroke-width="1.1"/>
<line x1="339.50" y1="279.3" x2="339.50" y2="281.5" stroke="#333" stroke-width="1.1"/>
<line x1="349.65" y1="279.3" x2="349.65" y2="280.7" stroke="#333" stroke-width="1.1"/>
<line x1="359.80" y1="279.3" x2="359.80" y2="281.5" stroke="#333" stroke-width="1.1"/>
<text transform="translate(217.70 289.10) scale(1 1.1)" font-size="7.5" fill="#222" text-anchor="middle" stroke="#222" stroke-width="0.22">775</text>
<text transform="translate(238.00 289.10) scale(1 1.1)" font-size="7.5" fill="#222" text-anchor="middle" stroke="#222" stroke-width="0.22">780</text>
<text transform="translate(258.30 289.10) scale(1 1.1)" font-size="7.5" fill="#222" text-anchor="middle" stroke="#222" stroke-width="0.22">785</text>
<text transform="translate(278.60 289.10) scale(1 1.1)" font-size="7.5" fill="#222" text-anchor="middle" stroke="#222" stroke-width="0.22">790</text>
<text transform="translate(298.90 289.10) scale(1 1.1)" font-size="7.5" fill="#222" text-anchor="middle" stroke="#222" stroke-width="0.22">795</text>
<text transform="translate(319.20 289.10) scale(1 1.1)" font-size="7.5" fill="#222" text-anchor="middle" stroke="#222" stroke-width="0.22">800</text>
<text transform="translate(339.50 289.10) scale(1 1.1)" font-size="7.5" fill="#222" text-anchor="middle" stroke="#222" stroke-width="0.22">805</text>
<text transform="translate(359.80 289.10) scale(1 1.1)" font-size="7.5" fill="#222" text-anchor="middle" stroke="#222" stroke-width="0.22">810</text>
<text x="357.00" y="173.10" font-size="6.4" fill="#333" text-anchor="end" stroke="#333" stroke-width="0.1">Co 2p</text>
<text x="244.10" y="193.40" font-size="6.4" fill="#333" text-anchor="start" stroke="#333" stroke-width="0.1">2p<tspan font-size="4.7" dy="1.4">3/2</tspan><tspan dy="-1.4"></tspan></text>
<text x="260.00" y="203.10" font-size="6.4" fill="#333" text-anchor="start" stroke="#333" stroke-width="0.1">sat.</text>
<text x="299.70" y="197.90" font-size="6.4" fill="#333" text-anchor="start" stroke="#333" stroke-width="0.1">2p<tspan font-size="4.7" dy="1.4">1/2</tspan><tspan dy="-1.4"></tspan></text>
<text x="322.10" y="201.20" font-size="6.4" fill="#333" text-anchor="start" stroke="#333" stroke-width="0.1">sat.</text>
<text x="353.40" y="194.80" font-size="6.4" fill="#333" text-anchor="end" stroke="#333" stroke-width="0.1">Fe-Co-O</text>
<text x="353.70" y="233.40" font-size="6.4" fill="#333" text-anchor="end" stroke="#333" stroke-width="0.1">Fe-Co<tspan font-size="4.7" dy="1.4">2</tspan><tspan dy="-1.4">P/NPC</tspan></text>
<text transform="translate(288.60 303.60) scale(1 1.06)" font-size="9.7" fill="#222" text-anchor="middle" stroke="#222" stroke-width="0.22">Binding energy (eV)</text>
<text transform="translate(204.10 221.00) rotate(-90)" font-size="9.9" fill="#222" text-anchor="middle" stroke="#222" stroke-width="0.22">Intensity (a.u.)</text>
<path d="M402.9,227.3 403.4,227.3 403.9,227.2 404.4,227.2 404.9,227.2 405.4,227.1 405.9,227.1 406.4,227.0 406.9,227.0 407.4,226.9 407.9,226.8 408.4,226.8 408.9,226.7 409.4,226.6 409.9,226.5 410.4,226.5 410.9,226.4 411.4,226.2 411.9,226.1 412.4,225.9 412.9,225.7 413.4,225.5 413.9,225.2 414.4,224.9 414.9,224.6 415.4,224.3 415.9,224.0 416.4,223.7 416.9,223.3 417.4,222.9 417.9,222.4 418.4,222.0 418.9,221.5 419.4,221.0 419.9,220.4 420.4,219.9 420.9,219.2 421.4,218.6 421.9,217.9 422.4,217.2 422.9,216.4 423.4,215.6 423.9,214.7 424.4,213.8 424.9,212.8 425.4,211.9 425.9,210.9 426.4,209.8 426.9,208.8 427.4,207.7 427.9,206.7 428.4,205.6 428.9,204.6 429.4,203.5 429.9,202.5 430.4,201.5 430.9,200.5 431.4,199.5 431.9,198.6 432.4,197.7 432.9,196.8 433.4,196.0 433.9,195.3 434.4,194.6 434.9,193.9 435.4,193.4 435.9,192.9 436.4,192.5 436.9,192.1 437.4,191.8 437.9,191.6 438.4,191.5 438.9,191.4 439.4,191.3 439.9,191.4 440.4,191.5 440.9,191.6 441.4,191.9 441.9,192.1 442.4,192.4 442.9,192.8 443.4,193.2 443.9,193.7 444.4,194.2 444.9,194.7 445.4,195.2 445.9,195.8 446.4,196.4 446.9,197.0 447.4,197.5 447.9,198.1 448.4,198.7 448.9,199.3 449.4,199.9 449.9,200.5 450.4,201.0 450.9,201.6 451.4,202.1 451.9,202.7 452.4,203.2 452.9,203.6 453.4,204.1 453.9,204.5 454.4,204.9 454.9,205.2 455.4,205.6 455.9,205.9 456.4,206.1 456.9,206.4 457.4,206.6 457.9,206.8 458.4,206.9 458.9,207.1 459.4,207.2 459.9,207.2 460.4,207.4 460.9,207.5 461.4,207.5 461.9,207.6 462.4,207.6 462.9,207.7 463.4,207.7 463.9,207.7 464.4,207.7 464.9,207.7 465.4,207.6 465.9,207.6 466.4,207.6 466.9,207.6 467.4,207.5 467.9,207.5 468.4,207.4 468.9,207.4 469.4,207.3 469.9,207.2 470.4,207.2 470.9,207.1 471.4,207.0 471.9,206.9 472.4,206.9 472.9,206.8 473.4,206.7 473.9,206.6 474.4,206.5 474.4,206.6 473.9,206.7 473.4,206.7 472.9,206.8 472.4,206.9 471.9,207.0 471.4,207.1 470.9,207.2 470.4,207.3 469.9,207.4 469.4,207.5 468.9,207.6 468.4,207.7 467.9,207.8 467.4,207.9 466.9,207.9 466.4,208.0 465.9,208.1 465.4,208.2 464.9,208.3 464.4,208.4 463.9,208.6 463.4,208.7 462.9,208.8 462.4,208.9 461.9,209.0 461.4,209.2 460.9,209.3 460.4,209.4 459.9,209.5 459.4,209.7 458.9,209.9 458.4,210.1 457.9,210.3 457.4,210.5 456.9,210.7 456.4,210.8 455.9,211.0 455.4,211.2 454.9,211.4 454.4,211.6 453.9,211.8 453.4,212.0 452.9,212.1 452.4,212.3 451.9,212.5 451.4,212.7 450.9,212.9 450.4,213.1 449.9,213.3 449.4,213.5 448.9,213.8 448.4,214.0 447.9,214.2 447.4,214.4 446.9,214.6 446.4,214.9 445.9,215.1 445.4,215.3 444.9,215.5 444.4,215.7 443.9,216.0 443.4,216.2 442.9,216.4 442.4,216.6 441.9,216.8 441.4,217.1 440.9,217.3 440.4,217.5 439.9,217.7 439.4,217.9 438.9,218.2 438.4,218.4 437.9,218.6 437.4,218.8 436.9,219.0 436.4,219.2 435.9,219.4 435.4,219.6 434.9,219.8 434.4,220.0 433.9,220.2 433.4,220.4 432.9,220.6 432.4,220.8 431.9,221.0 431.4,221.2 430.9,221.4 430.4,221.6 429.9,221.8 429.4,222.0 428.9,222.2 428.4,222.4 427.9,222.6 427.4,222.7 426.9,222.9 426.4,223.1 425.9,223.3 425.4,223.5 424.9,223.7 424.4,223.9 423.9,224.1 423.4,224.3 422.9,224.5 422.4,224.6 421.9,224.7 421.4,224.8 420.9,224.9 420.4,225.0 419.9,225.1 419.4,225.2 418.9,225.3 418.4,225.4 417.9,225.5 417.4,225.6 416.9,225.7 416.4,225.8 415.9,226.0 415.4,226.1 414.9,226.2 414.4,226.3 413.9,226.4 413.4,226.5 412.9,226.6 412.4,226.7 411.9,226.8 411.4,226.8 410.9,226.9 410.4,226.9 409.9,226.9 409.4,227.0 408.9,227.0 408.4,227.0 407.9,227.0 407.4,227.1 406.9,227.1 406.4,227.1 405.9,227.2 405.4,227.2 404.9,227.2 404.4,227.3 403.9,227.3 403.4,227.3 402.9,227.4 Z" fill="#f06464" fill-opacity="1" stroke="#f06464" stroke-width="0.3"/>
<path d="M440.4,217.5 440.9,217.2 441.4,217.0 441.9,216.7 442.4,216.4 442.9,216.1 443.4,215.8 443.9,215.5 444.4,215.1 444.9,214.7 445.4,214.2 445.9,213.7 446.4,213.1 446.9,212.4 447.4,211.7 447.9,211.0 448.4,210.2 448.9,209.3 449.4,208.4 449.9,207.6 450.4,206.7 450.9,205.9 451.4,205.2 451.9,204.6 452.4,204.0 452.9,203.6 453.4,203.4 453.9,203.2 454.4,203.2 454.9,203.3 455.4,203.5 455.9,203.8 456.4,204.2 456.9,204.7 457.4,205.1 457.9,205.6 458.4,206.0 458.9,206.5 459.4,206.8 459.9,207.1 460.4,207.5 460.9,207.7 461.4,207.9 461.9,208.1 462.4,208.2 462.9,208.3 463.4,208.3 463.9,208.3 464.4,208.2 464.9,208.2 465.4,208.1 465.9,208.1 466.4,208.0 466.9,207.9 466.9,207.9 466.4,208.0 465.9,208.1 465.4,208.2 464.9,208.3 464.4,208.4 463.9,208.6 463.4,208.7 462.9,208.8 462.4,208.9 461.9,209.0 461.4,209.2 460.9,209.3 460.4,209.4 459.9,209.5 459.4,209.7 458.9,209.9 458.4,210.1 457.9,210.3 457.4,210.5 456.9,210.7 456.4,210.8 455.9,211.0 455.4,211.2 454.9,211.4 454.4,211.6 453.9,211.8 453.4,212.0 452.9,212.1 452.4,212.3 451.9,212.5 451.4,212.7 450.9,212.9 450.4,213.1 449.9,213.3 449.4,213.5 448.9,213.8 448.4,214.0 447.9,214.2 447.4,214.4 446.9,214.6 446.4,214.9 445.9,215.1 445.4,215.3 444.9,215.5 444.4,215.7 443.9,216.0 443.4,216.2 442.9,216.4 442.4,216.6 441.9,216.8 441.4,217.1 440.9,217.3 440.4,217.5 Z" fill="#63c593" fill-opacity="0.7" stroke="#63c593" stroke-width="0.3"/>
<path d="M446.4,214.8 446.9,214.6 447.4,214.4 447.9,214.1 448.4,213.9 448.9,213.6 449.4,213.4 449.9,213.1 450.4,212.8 450.9,212.6 451.4,212.3 451.9,212.0 452.4,211.7 452.9,211.4 453.4,211.1 453.9,210.7 454.4,210.4 454.9,210.0 455.4,209.5 455.9,209.0 456.4,208.5 456.9,208.0 457.4,207.5 457.9,206.9 458.4,206.3 458.9,205.6 459.4,205.0 459.9,204.3 460.4,203.6 460.9,203.0 461.4,202.4 461.9,201.8 462.4,201.2 462.9,200.6 463.4,200.1 463.9,199.6 464.4,199.2 464.9,198.8 465.4,198.5 465.9,198.2 466.4,198.1 466.9,198.0 467.4,197.9 467.9,198.0 468.4,198.1 468.9,198.2 469.4,198.5 469.9,198.7 470.4,199.0 470.9,199.4 471.4,199.8 471.9,200.2 472.4,200.6 472.9,201.0 473.4,201.4 473.9,201.8 474.4,202.2 474.9,202.5 475.4,202.9 475.9,203.2 476.4,203.5 476.9,203.7 477.4,204.0 477.9,204.2 478.4,204.4 478.9,204.5 479.4,204.7 479.9,204.8 480.4,204.9 480.9,204.9 481.4,205.0 481.9,205.0 482.4,205.0 482.9,205.0 483.4,205.0 483.9,205.0 484.4,204.9 484.9,204.9 485.4,204.9 485.9,204.8 486.4,204.8 486.9,204.7 486.9,204.7 486.4,204.8 485.9,204.9 485.4,204.9 484.9,205.0 484.4,205.1 483.9,205.1 483.4,205.2 482.9,205.3 482.4,205.3 481.9,205.4 481.4,205.5 480.9,205.5 480.4,205.6 479.9,205.7 479.4,205.7 478.9,205.8 478.4,205.8 477.9,205.9 477.4,206.0 476.9,206.1 476.4,206.2 475.9,206.3 475.4,206.4 474.9,206.5 474.4,206.6 473.9,206.7 473.4,206.7 472.9,206.8 472.4,206.9 471.9,207.0 471.4,207.1 470.9,207.2 470.4,207.3 469.9,207.4 469.4,207.5 468.9,207.6 468.4,207.7 467.9,207.8 467.4,207.9 466.9,207.9 466.4,208.0 465.9,208.1 465.4,208.2 464.9,208.3 464.4,208.4 463.9,208.6 463.4,208.7 462.9,208.8 462.4,208.9 461.9,209.0 461.4,209.2 460.9,209.3 460.4,209.4 459.9,209.5 459.4,209.7 458.9,209.9 458.4,210.1 457.9,210.3 457.4,210.5 456.9,210.7 456.4,210.8 455.9,211.0 455.4,211.2 454.9,211.4 454.4,211.6 453.9,211.8 453.4,212.0 452.9,212.1 452.4,212.3 451.9,212.5 451.4,212.7 450.9,212.9 450.4,213.1 449.9,213.3 449.4,213.5 448.9,213.8 448.4,214.0 447.9,214.2 447.4,214.4 446.9,214.6 446.4,214.9 Z" fill="#bb8ce8" fill-opacity="1" stroke="#bb8ce8" stroke-width="0.3"/>
<path d="M466.4,208.0 466.9,207.9 467.4,207.8 467.9,207.7 468.4,207.6 468.9,207.5 469.4,207.4 469.9,207.2 470.4,207.1 470.9,207.0 471.4,206.8 471.9,206.7 472.4,206.5 472.9,206.4 473.4,206.2 473.9,206.0 474.4,205.8 474.9,205.6 475.4,205.3 475.9,205.1 476.4,204.8 476.9,204.5 477.4,204.2 477.9,203.9 478.4,203.6 478.9,203.3 479.4,202.9 479.9,202.6 480.4,202.2 480.9,201.9 481.4,201.5 481.9,201.2 482.4,200.8 482.9,200.5 483.4,200.2 483.9,199.9 484.4,199.6 484.9,199.3 485.4,199.1 485.9,198.9 486.4,198.7 486.9,198.6 487.4,198.5 487.9,198.4 488.4,198.4 488.9,198.4 489.4,198.5 489.9,198.5 490.4,198.6 490.9,198.8 491.4,198.9 491.9,199.1 492.4,199.3 492.9,199.5 493.4,199.7 493.9,200.0 494.4,200.2 494.9,200.4 495.4,200.6 495.9,200.8 496.4,201.0 496.9,201.2 497.4,201.4 497.9,201.6 498.4,201.7 498.9,201.8 499.4,201.9 499.9,202.0 500.4,202.1 500.9,202.2 501.4,202.2 501.9,202.3 502.4,202.3 502.9,202.3 503.4,202.3 503.9,202.3 504.4,202.3 504.9,202.2 505.4,202.2 505.9,202.3 506.4,202.3 506.9,202.3 507.4,202.3 507.9,202.3 508.4,202.3 508.4,202.3 507.9,202.3 507.4,202.3 506.9,202.3 506.4,202.4 505.9,202.4 505.4,202.4 504.9,202.4 504.4,202.5 503.9,202.5 503.4,202.6 502.9,202.7 502.4,202.7 501.9,202.8 501.4,202.9 500.9,202.9 500.4,203.0 499.9,203.1 499.4,203.1 498.9,203.2 498.4,203.3 497.9,203.3 497.4,203.4 496.9,203.5 496.4,203.5 495.9,203.6 495.4,203.6 494.9,203.7 494.4,203.8 493.9,203.8 493.4,203.9 492.9,204.0 492.4,204.0 491.9,204.1 491.4,204.2 490.9,204.2 490.4,204.3 489.9,204.4 489.4,204.4 488.9,204.5 488.4,204.6 487.9,204.6 487.4,204.7 486.9,204.7 486.4,204.8 485.9,204.9 485.4,204.9 484.9,205.0 484.4,205.1 483.9,205.1 483.4,205.2 482.9,205.3 482.4,205.3 481.9,205.4 481.4,205.5 480.9,205.5 480.4,205.6 479.9,205.7 479.4,205.7 478.9,205.8 478.4,205.8 477.9,205.9 477.4,206.0 476.9,206.1 476.4,206.2 475.9,206.3 475.4,206.4 474.9,206.5 474.4,206.6 473.9,206.7 473.4,206.7 472.9,206.8 472.4,206.9 471.9,207.0 471.4,207.1 470.9,207.2 470.4,207.3 469.9,207.4 469.4,207.5 468.9,207.6 468.4,207.7 467.9,207.8 467.4,207.9 466.9,207.9 466.4,208.0 Z" fill="#f06464" fill-opacity="1" stroke="#f06464" stroke-width="0.3"/>
<path d="M510.9,202.2 511.4,202.2 511.9,202.2 512.4,202.1 512.9,202.1 513.4,202.1 513.9,202.0 514.4,202.0 514.9,202.0 515.4,201.9 515.9,201.9 516.4,201.8 516.9,201.8 517.4,201.7 517.9,201.6 518.4,201.5 518.9,201.5 519.4,201.4 519.9,201.3 520.4,201.2 520.9,201.1 521.4,200.9 521.9,200.8 522.4,200.7 522.9,200.6 523.4,200.5 523.9,200.3 524.4,200.2 524.9,200.1 525.4,200.0 525.9,199.9 526.4,199.8 526.9,199.7 527.4,199.6 527.9,199.5 528.4,199.4 528.9,199.4 529.4,199.3 529.9,199.3 530.4,199.3 530.9,199.3 531.4,199.3 531.9,199.4 532.4,199.4 532.9,199.5 533.4,199.5 533.9,199.6 534.4,199.7 534.9,199.8 535.4,199.9 535.9,200.0 536.4,200.1 536.9,200.2 537.4,200.3 537.9,200.3 538.4,200.4 538.9,200.5 539.4,200.6 539.9,200.7 540.4,200.8 540.9,200.8 540.9,201.4 540.4,201.4 539.9,201.4 539.4,201.5 538.9,201.5 538.4,201.5 537.9,201.5 537.4,201.5 536.9,201.5 536.4,201.5 535.9,201.6 535.4,201.6 534.9,201.6 534.4,201.6 533.9,201.6 533.4,201.6 532.9,201.6 532.4,201.6 531.9,201.7 531.4,201.7 530.9,201.7 530.4,201.7 529.9,201.7 529.4,201.7 528.9,201.7 528.4,201.8 527.9,201.8 527.4,201.8 526.9,201.8 526.4,201.8 525.9,201.8 525.4,201.8 524.9,201.9 524.4,201.9 523.9,201.9 523.4,201.9 522.9,201.9 522.4,201.9 521.9,201.9 521.4,201.9 520.9,202.0 520.4,202.0 519.9,202.0 519.4,202.0 518.9,202.0 518.4,202.0 517.9,202.0 517.4,202.1 516.9,202.1 516.4,202.1 515.9,202.1 515.4,202.1 514.9,202.1 514.4,202.1 513.9,202.2 513.4,202.2 512.9,202.2 512.4,202.2 511.9,202.2 511.4,202.2 510.9,202.2 Z" fill="#bb8ce8" fill-opacity="1" stroke="#bb8ce8" stroke-width="0.3"/>
<path d="M399.4,227.6 399.9,227.5 400.4,227.5 400.9,227.5 401.4,227.4 401.9,227.4 402.4,227.4 402.9,227.4 403.4,227.3 403.9,227.3 404.4,227.3 404.9,227.2 405.4,227.2 405.9,227.2 406.4,227.1 406.9,227.1 407.4,227.1 407.9,227.0 408.4,227.0 408.9,227.0 409.4,227.0 409.9,226.9 410.4,226.9 410.9,226.9 411.4,226.8 411.9,226.8 412.4,226.7 412.9,226.6 413.4,226.5 413.9,226.4 414.4,226.3 414.9,226.2 415.4,226.1 415.9,226.0 416.4,225.8 416.9,225.7 417.4,225.6 417.9,225.5 418.4,225.4 418.9,225.3 419.4,225.2 419.9,225.1 420.4,225.0 420.9,224.9 421.4,224.8 421.9,224.7 422.4,224.6 422.9,224.5 423.4,224.3 423.9,224.1 424.4,223.9 424.9,223.7 425.4,223.5 425.9,223.3 426.4,223.1 426.9,222.9 427.4,222.7 427.9,222.6 428.4,222.4 428.9,222.2 429.4,222.0 429.9,221.8 430.4,221.6 430.9,221.4 431.4,221.2 431.9,221.0 432.4,220.8 432.9,220.6 433.4,220.4 433.9,220.2 434.4,220.0 434.9,219.8 435.4,219.6 435.9,219.4 436.4,219.2 436.9,219.0 437.4,218.8 437.9,218.6 438.4,218.4 438.9,218.2 439.4,217.9 439.9,217.7 440.4,217.5 440.9,217.3 441.4,217.1 441.9,216.8 442.4,216.6 442.9,216.4 443.4,216.2 443.9,216.0 444.4,215.7 444.9,215.5 445.4,215.3 445.9,215.1 446.4,214.9 446.9,214.6 447.4,214.4 447.9,214.2 448.4,214.0 448.9,213.8 449.4,213.5 449.9,213.3 450.4,213.1 450.9,212.9 451.4,212.7 451.9,212.5 452.4,212.3 452.9,212.1 453.4,212.0 453.9,211.8 454.4,211.6 454.9,211.4 455.4,211.2 455.9,211.0 456.4,210.8 456.9,210.7 457.4,210.5 457.9,210.3 458.4,210.1 458.9,209.9 459.4,209.7 459.9,209.5 460.4,209.4 460.9,209.3 461.4,209.2 461.9,209.0 462.4,208.9 462.9,208.8 463.4,208.7 463.9,208.6 464.4,208.4 464.9,208.3 465.4,208.2 465.9,208.1 466.4,208.0 466.9,207.9 467.4,207.9 467.9,207.8 468.4,207.7 468.9,207.6 469.4,207.5 469.9,207.4 470.4,207.3 470.9,207.2 471.4,207.1 471.9,207.0 472.4,206.9 472.9,206.8 473.4,206.7 473.9,206.7 474.4,206.6 474.9,206.5 475.4,206.4 475.9,206.3 476.4,206.2 476.9,206.1 477.4,206.0 477.9,205.9 478.4,205.8 478.9,205.8 479.4,205.7 479.9,205.7 480.4,205.6 480.9,205.5 481.4,205.5 481.9,205.4 482.4,205.3 482.9,205.3 483.4,205.2 483.9,205.1 484.4,205.1 484.9,205.0 485.4,204.9 485.9,204.9 486.4,204.8 486.9,204.7 487.4,204.7 487.9,204.6 488.4,204.6 488.9,204.5 489.4,204.4 489.9,204.4 490.4,204.3 490.9,204.2 491.4,204.2 491.9,204.1 492.4,204.0 492.9,204.0 493.4,203.9 493.9,203.8 494.4,203.8 494.9,203.7 495.4,203.6 495.9,203.6 496.4,203.5 496.9,203.5 497.4,203.4 497.9,203.3 498.4,203.3 498.9,203.2 499.4,203.1 499.9,203.1 500.4,203.0 500.9,202.9 501.4,202.9 501.9,202.8 502.4,202.7 502.9,202.7 503.4,202.6 503.9,202.5 504.4,202.5 504.9,202.4 505.4,202.4 505.9,202.4 506.4,202.4 506.9,202.3 507.4,202.3 507.9,202.3 508.4,202.3 508.9,202.3 509.4,202.3 509.9,202.3 510.4,202.3 510.9,202.2 511.4,202.2 511.9,202.2 512.4,202.2 512.9,202.2 513.4,202.2 513.9,202.2 514.4,202.1 514.9,202.1 515.4,202.1 515.9,202.1 516.4,202.1 516.9,202.1 517.4,202.1 517.9,202.0 518.4,202.0 518.9,202.0 519.4,202.0 519.9,202.0 520.4,202.0 520.9,202.0 521.4,201.9 521.9,201.9 522.4,201.9 522.9,201.9 523.4,201.9 523.9,201.9 524.4,201.9 524.9,201.9 525.4,201.8 525.9,201.8 526.4,201.8 526.9,201.8 527.4,201.8 527.9,201.8 528.4,201.8 528.9,201.7 529.4,201.7 529.9,201.7 530.4,201.7 530.9,201.7 531.4,201.7 531.9,201.7 532.4,201.6 532.9,201.6 533.4,201.6 533.9,201.6 534.4,201.6 534.9,201.6 535.4,201.6 535.9,201.6 536.4,201.5 536.9,201.5 537.4,201.5 537.9,201.5 538.4,201.5 538.9,201.5 539.4,201.5 539.9,201.4 540.4,201.4 540.9,201.4" stroke="#5a5a5a" stroke-width="0.7" fill="none" stroke-linejoin="round"/>
<path d="M398.9,227.6 C399.9,227.6 402.8,227.7 405.0,227.4 C407.2,227.1 410.1,226.7 411.9,226.0 C413.7,225.3 414.6,224.6 416.0,223.3 C417.4,222.1 418.4,220.9 420.0,218.5 C421.6,216.1 423.7,212.5 425.5,209.0 C427.3,205.5 429.2,200.6 431.0,197.7 C432.8,194.8 434.8,192.6 436.0,191.3 C437.2,190.0 437.0,190.1 438.5,190.1 C440.0,190.1 442.2,190.9 445.0,191.6 C447.8,192.3 452.5,193.6 455.0,194.5 C457.5,195.4 458.1,196.4 460.0,196.9 C461.9,197.4 464.5,197.3 466.7,197.7 C468.9,198.1 471.7,198.9 473.4,199.2 C475.1,199.5 475.4,199.8 477.1,199.6 C478.8,199.4 481.7,198.7 483.8,198.1 C485.9,197.5 487.9,196.4 489.8,196.2 C491.7,195.9 493.3,196.1 495.0,196.6 C496.7,197.1 498.6,198.4 500.2,199.2 C501.8,200.0 502.4,201.0 504.7,201.4 C506.9,201.8 511.2,201.8 513.7,201.7 C516.2,201.6 517.4,201.0 519.6,200.6 C521.8,200.2 524.5,199.3 527.0,199.2 C529.5,199.1 532.1,199.7 534.5,199.9 C536.9,200.1 540.2,200.5 541.4,200.6" stroke="#555" stroke-width="0.8" fill="none"/>
<path d="M399.4,273.1 399.9,273.0 400.4,272.9 400.9,272.9 401.4,272.8 401.9,272.7 402.4,272.6 402.9,272.5 403.4,272.4 403.9,272.3 404.4,272.2 404.9,272.0 405.4,271.9 405.9,271.7 406.4,271.6 406.9,271.4 407.4,271.2 407.9,270.9 408.4,270.7 408.9,270.4 409.4,270.2 409.9,269.8 410.4,269.5 410.9,269.2 411.4,268.8 411.9,268.4 412.4,268.0 412.9,267.6 413.4,267.2 413.9,266.7 414.4,266.3 414.9,265.8 415.4,265.4 415.9,264.9 416.4,264.5 416.9,264.1 417.4,263.6 417.9,263.3 418.4,262.9 418.9,262.4 419.4,262.1 419.9,261.7 420.4,261.4 420.9,261.1 421.4,260.8 421.9,260.6 422.4,260.5 422.9,260.4 423.4,260.3 423.9,260.3 424.4,260.3 424.9,260.4 425.4,260.5 425.9,260.7 426.4,260.9 426.9,261.1 427.4,261.4 427.9,261.6 428.4,261.7 428.9,261.9 429.4,262.1 429.9,262.3 430.4,262.4 430.9,262.6 431.4,262.7 431.9,262.9 432.4,263.0 432.9,263.0 433.4,263.1 433.9,263.1 434.4,263.1 434.9,263.1 435.4,263.1 435.9,263.0 436.4,262.9 436.9,262.8 437.4,262.7 437.9,262.5 438.4,262.3 438.9,262.1 439.4,261.8 439.9,261.6 440.4,261.3 440.9,261.0 441.4,260.8 441.9,260.5 442.4,260.2 442.9,259.9 443.4,259.6 443.9,259.3 444.4,259.0 444.4,259.0 443.9,259.3 443.4,259.7 442.9,260.0 442.4,260.3 441.9,260.6 441.4,260.9 440.9,261.2 440.4,261.5 439.9,261.8 439.4,262.1 438.9,262.5 438.4,262.8 437.9,263.1 437.4,263.4 436.9,263.6 436.4,263.9 435.9,264.1 435.4,264.4 434.9,264.6 434.4,264.9 433.9,265.1 433.4,265.4 432.9,265.6 432.4,265.9 431.9,266.1 431.4,266.4 430.9,266.6 430.4,266.9 429.9,267.1 429.4,267.4 428.9,267.6 428.4,267.9 427.9,268.1 427.4,268.4 426.9,268.5 426.4,268.7 425.9,268.8 425.4,268.9 424.9,269.1 424.4,269.2 423.9,269.4 423.4,269.5 422.9,269.6 422.4,269.8 421.9,269.9 421.4,270.0 420.9,270.2 420.4,270.3 419.9,270.5 419.4,270.6 418.9,270.7 418.4,270.9 417.9,271.0 417.4,271.0 416.9,271.1 416.4,271.2 415.9,271.2 415.4,271.3 414.9,271.4 414.4,271.5 413.9,271.5 413.4,271.6 412.9,271.7 412.4,271.8 411.9,271.8 411.4,271.9 410.9,272.0 410.4,272.0 409.9,272.1 409.4,272.2 408.9,272.2 408.4,272.3 407.9,272.3 407.4,272.4 406.9,272.4 406.4,272.5 405.9,272.5 405.4,272.6 404.9,272.6 404.4,272.7 403.9,272.7 403.4,272.8 402.9,272.8 402.4,272.9 401.9,272.9 401.4,273.0 400.9,273.0 400.4,273.1 399.9,273.1 399.4,273.2 Z" fill="#3d7fdc" fill-opacity="1" stroke="#3d7fdc" stroke-width="0.3"/>
<path d="M419.9,270.4 420.4,270.3 420.9,270.1 421.4,269.9 421.9,269.6 422.4,269.4 422.9,269.0 423.4,268.6 423.9,268.1 424.4,267.4 424.9,266.6 425.4,265.7 425.9,264.6 426.4,263.3 426.9,261.9 427.4,260.4 427.9,258.8 428.4,257.1 428.9,255.5 429.4,254.2 429.9,253.0 430.4,252.1 430.9,251.6 431.4,251.5 431.9,251.7 432.4,252.2 432.9,253.0 433.4,254.0 433.9,255.2 434.4,256.3 434.9,257.5 435.4,258.5 435.9,259.5 436.4,260.2 436.9,260.9 437.4,261.3 437.9,261.6 438.4,261.7 438.9,261.7 439.4,261.7 439.9,261.5 440.4,261.3 440.9,261.1 441.4,260.8 441.9,260.5 441.9,260.6 441.4,260.9 440.9,261.2 440.4,261.5 439.9,261.8 439.4,262.1 438.9,262.5 438.4,262.8 437.9,263.1 437.4,263.4 436.9,263.6 436.4,263.9 435.9,264.1 435.4,264.4 434.9,264.6 434.4,264.9 433.9,265.1 433.4,265.4 432.9,265.6 432.4,265.9 431.9,266.1 431.4,266.4 430.9,266.6 430.4,266.9 429.9,267.1 429.4,267.4 428.9,267.6 428.4,267.9 427.9,268.1 427.4,268.4 426.9,268.5 426.4,268.7 425.9,268.8 425.4,268.9 424.9,269.1 424.4,269.2 423.9,269.4 423.4,269.5 422.9,269.6 422.4,269.8 421.9,269.9 421.4,270.0 420.9,270.2 420.4,270.3 419.9,270.5 Z" fill="#f06464" fill-opacity="1" stroke="#f06464" stroke-width="0.3"/>
<path d="M427.4,268.4 427.9,268.1 428.4,267.8 428.9,267.5 429.4,267.2 429.9,266.9 430.4,266.5 430.9,266.0 431.4,265.5 431.9,264.9 432.4,264.2 432.9,263.4 433.4,262.4 433.9,261.3 434.4,259.9 434.9,258.4 435.4,256.6 435.9,254.6 436.4,252.5 436.9,250.2 437.4,247.8 437.9,245.4 438.4,243.0 438.9,240.7 439.4,238.6 439.9,236.9 440.4,235.4 440.9,234.4 441.4,233.9 441.9,233.7 442.4,233.8 442.9,234.2 443.4,234.7 443.9,235.5 444.4,236.5 444.9,237.6 445.4,238.8 445.9,240.1 446.4,241.4 446.9,242.7 447.4,244.0 447.9,245.3 448.4,246.6 448.9,247.8 449.4,249.0 449.9,250.0 450.4,250.9 450.9,251.7 451.4,252.4 451.9,252.9 452.4,253.4 452.9,253.7 453.4,254.0 453.9,254.2 454.4,254.4 454.9,254.5 455.4,254.5 455.9,254.6 456.4,254.5 456.9,254.5 457.4,254.4 457.9,254.4 458.4,254.3 458.9,254.2 459.4,254.1 459.4,254.1 458.9,254.3 458.4,254.4 457.9,254.5 457.4,254.6 456.9,254.7 456.4,254.8 455.9,255.0 455.4,255.1 454.9,255.2 454.4,255.3 453.9,255.4 453.4,255.5 452.9,255.7 452.4,255.8 451.9,255.9 451.4,256.0 450.9,256.1 450.4,256.2 449.9,256.4 449.4,256.5 448.9,256.6 448.4,256.7 447.9,256.9 447.4,257.2 446.9,257.5 446.4,257.8 445.9,258.1 445.4,258.4 444.9,258.7 444.4,259.0 443.9,259.3 443.4,259.7 442.9,260.0 442.4,260.3 441.9,260.6 441.4,260.9 440.9,261.2 440.4,261.5 439.9,261.8 439.4,262.1 438.9,262.5 438.4,262.8 437.9,263.1 437.4,263.4 436.9,263.6 436.4,263.9 435.9,264.1 435.4,264.4 434.9,264.6 434.4,264.9 433.9,265.1 433.4,265.4 432.9,265.6 432.4,265.9 431.9,266.1 431.4,266.4 430.9,266.6 430.4,266.9 429.9,267.1 429.4,267.4 428.9,267.6 428.4,267.9 427.9,268.1 427.4,268.4 Z" fill="#63c593" fill-opacity="0.85" stroke="#63c593" stroke-width="0.3"/>
<path d="M435.9,264.1 436.4,263.8 436.9,263.5 437.4,263.3 437.9,263.0 438.4,262.6 438.9,262.3 439.4,261.9 439.9,261.6 440.4,261.2 440.9,260.8 441.4,260.4 441.9,260.0 442.4,259.6 442.9,259.1 443.4,258.6 443.9,258.1 444.4,257.5 444.9,257.0 445.4,256.3 445.9,255.7 446.4,255.0 446.9,254.3 447.4,253.5 447.9,252.7 448.4,252.0 448.9,251.3 449.4,250.5 449.9,249.8 450.4,249.0 450.9,248.1 451.4,247.3 451.9,246.5 452.4,245.6 452.9,244.8 453.4,244.0 453.9,243.2 454.4,242.5 454.9,241.8 455.4,241.2 455.9,240.6 456.4,240.1 456.9,239.7 457.4,239.4 457.9,239.2 458.4,239.1 458.9,239.0 459.4,239.1 459.9,239.3 460.4,239.5 460.9,239.8 461.4,240.2 461.9,240.6 462.4,241.1 462.9,241.6 463.4,242.2 463.9,242.8 464.4,243.4 464.9,244.0 465.4,244.6 465.9,245.2 466.4,245.7 466.9,246.3 467.4,246.8 467.9,247.3 468.4,247.7 468.9,248.1 469.4,248.4 469.9,248.7 470.4,249.0 470.9,249.3 471.4,249.5 471.9,249.6 472.4,249.8 472.9,249.9 473.4,249.9 473.9,250.0 474.4,250.0 474.9,250.0 475.4,250.1 475.9,250.1 476.4,250.2 476.9,250.2 477.4,250.3 477.9,250.3 478.4,250.3 478.9,250.3 479.4,250.3 479.9,250.3 480.4,250.3 480.4,250.4 479.9,250.4 479.4,250.4 478.9,250.4 478.4,250.4 477.9,250.4 477.4,250.4 476.9,250.5 476.4,250.5 475.9,250.5 475.4,250.5 474.9,250.5 474.4,250.6 473.9,250.7 473.4,250.9 472.9,251.0 472.4,251.1 471.9,251.2 471.4,251.3 470.9,251.4 470.4,251.5 469.9,251.6 469.4,251.7 468.9,251.9 468.4,252.0 467.9,252.1 467.4,252.2 466.9,252.3 466.4,252.5 465.9,252.6 465.4,252.7 464.9,252.8 464.4,252.9 463.9,253.1 463.4,253.2 462.9,253.3 462.4,253.4 461.9,253.5 461.4,253.7 460.9,253.8 460.4,253.9 459.9,254.0 459.4,254.1 458.9,254.3 458.4,254.4 457.9,254.5 457.4,254.6 456.9,254.7 456.4,254.8 455.9,255.0 455.4,255.1 454.9,255.2 454.4,255.3 453.9,255.4 453.4,255.5 452.9,255.7 452.4,255.8 451.9,255.9 451.4,256.0 450.9,256.1 450.4,256.2 449.9,256.4 449.4,256.5 448.9,256.6 448.4,256.7 447.9,256.9 447.4,257.2 446.9,257.5 446.4,257.8 445.9,258.1 445.4,258.4 444.9,258.7 444.4,259.0 443.9,259.3 443.4,259.7 442.9,260.0 442.4,260.3 441.9,260.6 441.4,260.9 440.9,261.2 440.4,261.5 439.9,261.8 439.4,262.1 438.9,262.5 438.4,262.8 437.9,263.1 437.4,263.4 436.9,263.6 436.4,263.9 435.9,264.1 Z" fill="#bb8ce8" fill-opacity="1" stroke="#bb8ce8" stroke-width="0.3"/>
<path d="M484.9,250.2 485.4,250.2 485.9,250.1 486.4,250.1 486.9,250.0 487.4,249.9 487.9,249.7 488.4,249.4 488.9,249.1 489.4,248.7 489.9,248.2 490.4,247.7 490.9,247.2 491.4,246.6 491.9,246.0 492.4,245.3 492.9,244.7 493.4,244.2 493.9,243.7 494.4,243.4 494.9,243.1 495.4,243.0 495.9,243.0 496.4,243.1 496.9,243.4 497.4,243.7 497.9,244.0 498.4,244.4 498.9,244.9 499.4,245.2 499.9,245.6 500.4,245.9 500.9,246.3 501.4,246.5 501.9,246.7 502.4,246.8 502.9,246.9 503.4,247.0 503.9,247.0 504.4,247.0 504.9,247.0 505.4,247.0 505.4,247.1 504.9,247.1 504.4,247.2 503.9,247.2 503.4,247.3 502.9,247.3 502.4,247.4 501.9,247.4 501.4,247.5 500.9,247.5 500.4,247.6 499.9,247.6 499.4,247.7 498.9,247.8 498.4,247.9 497.9,248.1 497.4,248.2 496.9,248.3 496.4,248.4 495.9,248.5 495.4,248.6 494.9,248.7 494.4,248.8 493.9,248.9 493.4,249.0 492.9,249.1 492.4,249.2 491.9,249.4 491.4,249.5 490.9,249.6 490.4,249.7 489.9,249.8 489.4,249.9 488.9,250.0 488.4,250.1 487.9,250.2 487.4,250.2 486.9,250.2 486.4,250.2 485.9,250.2 485.4,250.3 484.9,250.3 Z" fill="#f06464" fill-opacity="1" stroke="#f06464" stroke-width="0.3"/>
<path d="M486.4,250.2 486.9,250.2 487.4,250.1 487.9,250.1 488.4,250.0 488.9,249.8 489.4,249.7 489.9,249.5 490.4,249.3 490.9,249.1 491.4,248.9 491.9,248.6 492.4,248.4 492.9,248.1 493.4,247.7 493.9,247.4 494.4,247.0 494.9,246.5 495.4,246.1 495.9,245.6 496.4,245.0 496.9,244.5 497.4,243.9 497.9,243.3 498.4,242.7 498.9,242.1 499.4,241.5 499.9,240.9 500.4,240.4 500.9,240.0 501.4,239.6 501.9,239.3 502.4,239.0 502.9,238.9 503.4,238.8 503.9,238.7 504.4,238.8 504.9,238.9 505.4,239.1 505.9,239.4 506.4,239.7 506.9,240.0 507.4,240.4 507.9,240.9 508.4,241.3 508.9,241.8 509.4,242.2 509.9,242.6 510.4,243.0 510.9,243.4 511.4,243.8 511.9,244.1 512.4,244.4 512.9,244.7 513.4,244.9 513.9,245.1 514.4,245.2 514.9,245.3 515.4,245.4 515.9,245.5 516.4,245.6 516.9,245.6 517.4,245.6 517.9,245.6 518.4,245.6 518.9,245.6 519.4,245.6 519.9,245.6 520.4,245.5 520.9,245.5 520.9,245.6 520.4,245.6 519.9,245.6 519.4,245.7 518.9,245.7 518.4,245.8 517.9,245.8 517.4,245.9 516.9,245.9 516.4,246.0 515.9,246.0 515.4,246.1 514.9,246.1 514.4,246.2 513.9,246.2 513.4,246.3 512.9,246.3 512.4,246.4 511.9,246.4 511.4,246.5 510.9,246.5 510.4,246.6 509.9,246.6 509.4,246.7 508.9,246.7 508.4,246.8 507.9,246.8 507.4,246.9 506.9,246.9 506.4,247.0 505.9,247.0 505.4,247.1 504.9,247.1 504.4,247.2 503.9,247.2 503.4,247.3 502.9,247.3 502.4,247.4 501.9,247.4 501.4,247.5 500.9,247.5 500.4,247.6 499.9,247.6 499.4,247.7 498.9,247.8 498.4,247.9 497.9,248.1 497.4,248.2 496.9,248.3 496.4,248.4 495.9,248.5 495.4,248.6 494.9,248.7 494.4,248.8 493.9,248.9 493.4,249.0 492.9,249.1 492.4,249.2 491.9,249.4 491.4,249.5 490.9,249.6 490.4,249.7 489.9,249.8 489.4,249.9 488.9,250.0 488.4,250.1 487.9,250.2 487.4,250.2 486.9,250.2 486.4,250.2 Z" fill="#63c593" fill-opacity="0.85" stroke="#63c593" stroke-width="0.3"/>
<path d="M505.9,247.0 506.4,246.9 506.9,246.9 507.4,246.8 507.9,246.7 508.4,246.7 508.9,246.6 509.4,246.5 509.9,246.5 510.4,246.4 510.9,246.3 511.4,246.2 511.9,246.1 512.4,246.0 512.9,245.9 513.4,245.8 513.9,245.7 514.4,245.6 514.9,245.5 515.4,245.4 515.9,245.3 516.4,245.2 516.9,245.1 517.4,245.0 517.9,244.9 518.4,244.8 518.9,244.7 519.4,244.6 519.9,244.5 520.4,244.4 520.9,244.4 521.4,244.3 521.9,244.3 522.4,244.3 522.9,244.3 523.4,244.3 523.9,244.3 524.4,244.3 524.9,244.3 525.4,244.4 525.9,244.4 526.4,244.4 526.9,244.5 527.4,244.5 527.9,244.5 528.4,244.6 528.9,244.6 529.4,244.6 529.9,244.7 530.4,244.7 530.9,244.7 531.4,244.8 531.9,244.8 532.4,244.8 532.9,244.8 533.4,244.8 533.9,244.8 534.4,244.9 534.9,244.9 535.4,244.9 535.9,244.8 536.4,244.8 536.9,244.8 537.4,244.8 537.9,244.8 537.9,244.8 537.4,244.9 536.9,244.9 536.4,244.9 535.9,244.9 535.4,245.0 534.9,245.0 534.4,245.0 533.9,245.0 533.4,245.0 532.9,245.1 532.4,245.1 531.9,245.1 531.4,245.1 530.9,245.1 530.4,245.2 529.9,245.2 529.4,245.2 528.9,245.2 528.4,245.2 527.9,245.3 527.4,245.3 526.9,245.3 526.4,245.3 525.9,245.4 525.4,245.4 524.9,245.4 524.4,245.4 523.9,245.4 523.4,245.5 522.9,245.5 522.4,245.5 521.9,245.5 521.4,245.5 520.9,245.6 520.4,245.6 519.9,245.6 519.4,245.7 518.9,245.7 518.4,245.8 517.9,245.8 517.4,245.9 516.9,245.9 516.4,246.0 515.9,246.0 515.4,246.1 514.9,246.1 514.4,246.2 513.9,246.2 513.4,246.3 512.9,246.3 512.4,246.4 511.9,246.4 511.4,246.5 510.9,246.5 510.4,246.6 509.9,246.6 509.4,246.7 508.9,246.7 508.4,246.8 507.9,246.8 507.4,246.9 506.9,246.9 506.4,247.0 505.9,247.0 Z" fill="#bb8ce8" fill-opacity="1" stroke="#bb8ce8" stroke-width="0.3"/>
<path d="M399.4,273.2 399.9,273.1 400.4,273.1 400.9,273.0 401.4,273.0 401.9,272.9 402.4,272.9 402.9,272.8 403.4,272.8 403.9,272.7 404.4,272.7 404.9,272.6 405.4,272.6 405.9,272.5 406.4,272.5 406.9,272.4 407.4,272.4 407.9,272.3 408.4,272.3 408.9,272.2 409.4,272.2 409.9,272.1 410.4,272.0 410.9,272.0 411.4,271.9 411.9,271.8 412.4,271.8 412.9,271.7 413.4,271.6 413.9,271.5 414.4,271.5 414.9,271.4 415.4,271.3 415.9,271.2 416.4,271.2 416.9,271.1 417.4,271.0 417.9,271.0 418.4,270.9 418.9,270.7 419.4,270.6 419.9,270.5 420.4,270.3 420.9,270.2 421.4,270.0 421.9,269.9 422.4,269.8 422.9,269.6 423.4,269.5 423.9,269.4 424.4,269.2 424.9,269.1 425.4,268.9 425.9,268.8 426.4,268.7 426.9,268.5 427.4,268.4 427.9,268.1 428.4,267.9 428.9,267.6 429.4,267.4 429.9,267.1 430.4,266.9 430.9,266.6 431.4,266.4 431.9,266.1 432.4,265.9 432.9,265.6 433.4,265.4 433.9,265.1 434.4,264.9 434.9,264.6 435.4,264.4 435.9,264.1 436.4,263.9 436.9,263.6 437.4,263.4 437.9,263.1 438.4,262.8 438.9,262.5 439.4,262.1 439.9,261.8 440.4,261.5 440.9,261.2 441.4,260.9 441.9,260.6 442.4,260.3 442.9,260.0 443.4,259.7 443.9,259.3 444.4,259.0 444.9,258.7 445.4,258.4 445.9,258.1 446.4,257.8 446.9,257.5 447.4,257.2 447.9,256.9 448.4,256.7 448.9,256.6 449.4,256.5 449.9,256.4 450.4,256.2 450.9,256.1 451.4,256.0 451.9,255.9 452.4,255.8 452.9,255.7 453.4,255.5 453.9,255.4 454.4,255.3 454.9,255.2 455.4,255.1 455.9,255.0 456.4,254.8 456.9,254.7 457.4,254.6 457.9,254.5 458.4,254.4 458.9,254.3 459.4,254.1 459.9,254.0 460.4,253.9 460.9,253.8 461.4,253.7 461.9,253.5 462.4,253.4 462.9,253.3 463.4,253.2 463.9,253.1 464.4,252.9 464.9,252.8 465.4,252.7 465.9,252.6 466.4,252.5 466.9,252.3 467.4,252.2 467.9,252.1 468.4,252.0 468.9,251.9 469.4,251.7 469.9,251.6 470.4,251.5 470.9,251.4 471.4,251.3 471.9,251.2 472.4,251.1 472.9,251.0 473.4,250.9 473.9,250.7 474.4,250.6 474.9,250.5 475.4,250.5 475.9,250.5 476.4,250.5 476.9,250.5 477.4,250.4 477.9,250.4 478.4,250.4 478.9,250.4 479.4,250.4 479.9,250.4 480.4,250.4 480.9,250.4 481.4,250.4 481.9,250.3 482.4,250.3 482.9,250.3 483.4,250.3 483.9,250.3 484.4,250.3 484.9,250.3 485.4,250.3 485.9,250.2 486.4,250.2 486.9,250.2 487.4,250.2 487.9,250.2 488.4,250.1 488.9,250.0 489.4,249.9 489.9,249.8 490.4,249.7 490.9,249.6 491.4,249.5 491.9,249.4 492.4,249.2 492.9,249.1 493.4,249.0 493.9,248.9 494.4,248.8 494.9,248.7 495.4,248.6 495.9,248.5 496.4,248.4 496.9,248.3 497.4,248.2 497.9,248.1 498.4,247.9 498.9,247.8 499.4,247.7 499.9,247.6 500.4,247.6 500.9,247.5 501.4,247.5 501.9,247.4 502.4,247.4 502.9,247.3 503.4,247.3 503.9,247.2 504.4,247.2 504.9,247.1 505.4,247.1 505.9,247.0 506.4,247.0 506.9,246.9 507.4,246.9 507.9,246.8 508.4,246.8 508.9,246.7 509.4,246.7 509.9,246.6 510.4,246.6 510.9,246.5 511.4,246.5 511.9,246.4 512.4,246.4 512.9,246.3 513.4,246.3 513.9,246.2 514.4,246.2 514.9,246.1 515.4,246.1 515.9,246.0 516.4,246.0 516.9,245.9 517.4,245.9 517.9,245.8 518.4,245.8 518.9,245.7 519.4,245.7 519.9,245.6 520.4,245.6 520.9,245.6 521.4,245.5 521.9,245.5 522.4,245.5 522.9,245.5 523.4,245.5 523.9,245.4 524.4,245.4 524.9,245.4 525.4,245.4 525.9,245.4 526.4,245.3 526.9,245.3 527.4,245.3 527.9,245.3 528.4,245.2 528.9,245.2 529.4,245.2 529.9,245.2 530.4,245.2 530.9,245.1 531.4,245.1 531.9,245.1 532.4,245.1 532.9,245.1 533.4,245.0 533.9,245.0 534.4,245.0 534.9,245.0 535.4,245.0 535.9,244.9 536.4,244.9 536.9,244.9 537.4,244.9 537.9,244.8 538.4,244.8 538.9,244.8 539.4,244.8 539.9,244.8 540.4,244.7 540.9,244.7" stroke="#5a5a5a" stroke-width="0.7" fill="none" stroke-linejoin="round"/>
<path d="M398.9,273.2 C400.2,272.9 404.1,272.7 406.7,271.6 C409.3,270.5 412.4,268.0 414.5,266.4 C416.6,264.8 418.1,263.2 419.6,261.9 C421.1,260.6 422.4,260.0 423.5,258.5 C424.6,257.0 425.2,254.9 426.0,252.9 C426.8,250.9 427.4,248.6 428.0,246.4 C428.6,244.2 429.4,241.7 429.9,240.0 C430.4,238.3 430.4,237.1 431.1,236.3 C431.8,235.5 433.2,235.6 434.3,235.0 C435.4,234.4 436.4,233.6 437.6,233.0 C438.8,232.4 440.0,230.9 441.4,231.2 C442.8,231.5 444.5,233.6 445.9,234.7 C447.3,235.8 448.5,237.1 449.8,237.6 C451.1,238.1 452.4,237.4 453.7,237.6 C455.0,237.8 456.0,237.7 457.5,238.5 C459.0,239.3 461.3,241.2 462.7,242.4 C464.1,243.7 464.5,244.9 465.7,246.0 C466.9,247.1 468.4,248.5 470.0,249.2 C471.6,249.9 473.2,249.8 475.0,250.0 C476.8,250.2 479.0,250.2 481.0,250.2 C483.0,250.2 485.5,250.6 487.0,249.8 C488.5,249.0 489.1,247.0 490.0,245.5 C490.9,244.0 491.7,242.0 492.5,241.0 C493.3,240.0 492.9,239.8 495.0,239.6 C497.1,239.4 502.5,239.4 505.0,239.8 C507.5,240.2 508.6,241.3 510.0,242.0 C511.4,242.7 511.7,243.4 513.4,243.7 C515.1,244.0 517.2,243.9 520.0,244.0 C522.8,244.1 526.4,244.1 530.0,244.2 C533.6,244.3 539.5,244.6 541.4,244.7" stroke="#444" stroke-width="0.8" fill="none"/>
<line x1="431.0" y1="165.3" x2="431.0" y2="279.5" stroke="#f26a6a" stroke-width="0.75" stroke-dasharray="2.4 1.2 0.7 1.2" stroke-dashoffset="0.5"/>
<line x1="437.7" y1="165.3" x2="437.7" y2="279.5" stroke="#808080" stroke-width="0.75" stroke-dasharray="2.4 1.2 0.7 1.2" stroke-dashoffset="0.5"/>
<rect x="398.9" y="165.3" width="142.5" height="114.19999999999999" fill="none" stroke="#555555" stroke-width="1.25"/>
<line x1="408.40" y1="279.5" x2="408.40" y2="281.7" stroke="#333" stroke-width="1.1"/>
<line x1="420.27" y1="279.5" x2="420.27" y2="280.9" stroke="#333" stroke-width="1.1"/>
<line x1="432.15" y1="279.5" x2="432.15" y2="281.7" stroke="#333" stroke-width="1.1"/>
<line x1="444.02" y1="279.5" x2="444.02" y2="280.9" stroke="#333" stroke-width="1.1"/>
<line x1="455.90" y1="279.5" x2="455.90" y2="281.7" stroke="#333" stroke-width="1.1"/>
<line x1="467.77" y1="279.5" x2="467.77" y2="280.9" stroke="#333" stroke-width="1.1"/>
<line x1="479.65" y1="279.5" x2="479.65" y2="281.7" stroke="#333" stroke-width="1.1"/>
<line x1="491.52" y1="279.5" x2="491.52" y2="280.9" stroke="#333" stroke-width="1.1"/>
<line x1="503.40" y1="279.5" x2="503.40" y2="281.7" stroke="#333" stroke-width="1.1"/>
<line x1="515.27" y1="279.5" x2="515.27" y2="280.9" stroke="#333" stroke-width="1.1"/>
<line x1="527.15" y1="279.5" x2="527.15" y2="281.7" stroke="#333" stroke-width="1.1"/>
<line x1="539.02" y1="279.5" x2="539.02" y2="280.9" stroke="#333" stroke-width="1.1"/>
<text transform="translate(408.40 289.50) scale(1 1.1)" font-size="7.5" fill="#222" text-anchor="middle" stroke="#222" stroke-width="0.22">705</text>
<text transform="translate(432.15 289.50) scale(1 1.1)" font-size="7.5" fill="#222" text-anchor="middle" stroke="#222" stroke-width="0.22">710</text>
<text transform="translate(455.90 289.50) scale(1 1.1)" font-size="7.5" fill="#222" text-anchor="middle" stroke="#222" stroke-width="0.22">715</text>
<text transform="translate(479.65 289.50) scale(1 1.1)" font-size="7.5" fill="#222" text-anchor="middle" stroke="#222" stroke-width="0.22">720</text>
<text transform="translate(503.40 289.50) scale(1 1.1)" font-size="7.5" fill="#222" text-anchor="middle" stroke="#222" stroke-width="0.22">725</text>
<text transform="translate(527.15 289.50) scale(1 1.1)" font-size="7.5" fill="#222" text-anchor="middle" stroke="#222" stroke-width="0.22">730</text>
<text x="539.00" y="175.00" font-size="6.4" fill="#333" text-anchor="end" stroke="#333" stroke-width="0.1">Fe 2p</text>
<text x="539.50" y="187.60" font-size="6.4" fill="#333" text-anchor="end" stroke="#333" stroke-width="0.1">Fe-Co-O</text>
<text x="535.30" y="196.60" font-size="6.4" fill="#333" text-anchor="end" stroke="#333" stroke-width="0.1">Sat.</text>
<text x="443.40" y="188.00" font-size="6.4" fill="#333" text-anchor="start" stroke="#333" stroke-width="0.1">2p<tspan font-size="4.7" dy="1.4">3/2</tspan><tspan dy="-1.4"></tspan></text>
<text x="463.30" y="194.20" font-size="6.4" fill="#333" text-anchor="start" stroke="#333" stroke-width="0.1">Sat.</text>
<text x="491.30" y="194.20" font-size="6.4" fill="#333" text-anchor="start" stroke="#333" stroke-width="0.1">2p<tspan font-size="4.7" dy="1.4">1/2</tspan><tspan dy="-1.4"></tspan></text>
<text x="539.50" y="236.30" font-size="6.4" fill="#333" text-anchor="end" stroke="#333" stroke-width="0.1">Fe-Co<tspan font-size="4.7" dy="1.4">2</tspan><tspan dy="-1.4">P/NPC</tspan></text>
<text x="404.20" y="257.40" font-size="6.4" fill="#333" text-anchor="start" stroke="#333" stroke-width="0.1">Fe-P</text>
<text transform="translate(470.20 303.60) scale(1 1.06)" font-size="9.8" fill="#222" text-anchor="middle" stroke="#222" stroke-width="0.22">Binding energy (eV)</text>
<text transform="translate(382.00 221.50) rotate(-90)" font-size="9.9" fill="#222" text-anchor="middle" stroke="#222" stroke-width="0.22">Intensity (a.u.)</text>
</g></svg></body></html>
